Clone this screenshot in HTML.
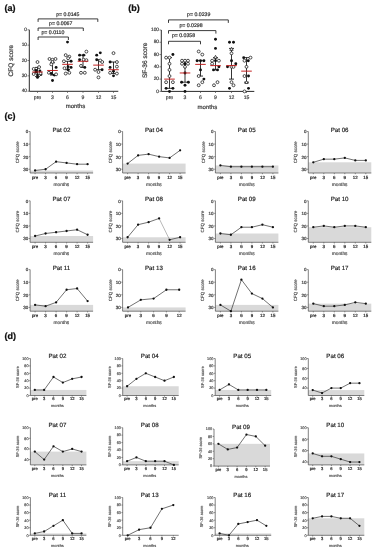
<!DOCTYPE html>
<html><head><meta charset="utf-8"><title>Figure</title>
<style>
html,body{margin:0;padding:0;background:#fff;}
body{width:375px;height:550px;overflow:hidden;}
svg{display:block;filter:blur(0.25px);}
text{font-family:'Liberation Sans', Arial, sans-serif;text-rendering:geometricPrecision;}
</style></head>
<body>
<svg width="375" height="550" viewBox="0 0 375 550">
<rect width="375" height="550" fill="#fff"/>
<text x="4.4" y="7.9" font-size="9" text-anchor="start" fill="#111" stroke="#111" stroke-width="0.23" font-weight="bold" dominant-baseline="central">(a)</text>
<line x1="29.3" y1="29.8" x2="29.3" y2="91.3" stroke="#2a2a2a" stroke-width="1"/>
<line x1="29.3" y1="91.3" x2="118.3" y2="91.3" stroke="#2a2a2a" stroke-width="1"/>
<line x1="27.5" y1="29.8" x2="29.3" y2="29.8" stroke="#4a4a4a" stroke-width="0.7"/>
<text x="27" y="30.4" font-size="4.8" text-anchor="end" fill="#3a3a3a" stroke="#3a3a3a" stroke-width="0.17" dominant-baseline="central">0</text>
<line x1="27.5" y1="45.15" x2="29.3" y2="45.15" stroke="#4a4a4a" stroke-width="0.7"/>
<text x="27" y="45.75" font-size="4.8" text-anchor="end" fill="#3a3a3a" stroke="#3a3a3a" stroke-width="0.17" dominant-baseline="central">10</text>
<line x1="27.5" y1="60.5" x2="29.3" y2="60.5" stroke="#4a4a4a" stroke-width="0.7"/>
<text x="27" y="61.1" font-size="4.8" text-anchor="end" fill="#3a3a3a" stroke="#3a3a3a" stroke-width="0.17" dominant-baseline="central">20</text>
<line x1="27.5" y1="75.85" x2="29.3" y2="75.85" stroke="#4a4a4a" stroke-width="0.7"/>
<text x="27" y="76.45" font-size="4.8" text-anchor="end" fill="#3a3a3a" stroke="#3a3a3a" stroke-width="0.17" dominant-baseline="central">30</text>
<line x1="27.5" y1="91.2" x2="29.3" y2="91.2" stroke="#4a4a4a" stroke-width="0.7"/>
<text x="27" y="91.8" font-size="4.8" text-anchor="end" fill="#3a3a3a" stroke="#3a3a3a" stroke-width="0.17" dominant-baseline="central">40</text>
<line x1="37.5" y1="91.3" x2="37.5" y2="92.9" stroke="#4a4a4a" stroke-width="0.7"/>
<text x="37.5" y="97.7" font-size="5.1" text-anchor="middle" fill="#3a3a3a" stroke="#3a3a3a" stroke-width="0.18" dominant-baseline="central">pre</text>
<line x1="52.5" y1="91.3" x2="52.5" y2="92.9" stroke="#4a4a4a" stroke-width="0.7"/>
<text x="52.5" y="97.7" font-size="5.1" text-anchor="middle" fill="#3a3a3a" stroke="#3a3a3a" stroke-width="0.18" dominant-baseline="central">3</text>
<line x1="67.5" y1="91.3" x2="67.5" y2="92.9" stroke="#4a4a4a" stroke-width="0.7"/>
<text x="67.5" y="97.7" font-size="5.1" text-anchor="middle" fill="#3a3a3a" stroke="#3a3a3a" stroke-width="0.18" dominant-baseline="central">6</text>
<line x1="83" y1="91.3" x2="83" y2="92.9" stroke="#4a4a4a" stroke-width="0.7"/>
<text x="83" y="97.7" font-size="5.1" text-anchor="middle" fill="#3a3a3a" stroke="#3a3a3a" stroke-width="0.18" dominant-baseline="central">9</text>
<line x1="98.5" y1="91.3" x2="98.5" y2="92.9" stroke="#4a4a4a" stroke-width="0.7"/>
<text x="98.5" y="97.7" font-size="5.1" text-anchor="middle" fill="#3a3a3a" stroke="#3a3a3a" stroke-width="0.18" dominant-baseline="central">12</text>
<line x1="113.5" y1="91.3" x2="113.5" y2="92.9" stroke="#4a4a4a" stroke-width="0.7"/>
<text x="113.5" y="97.7" font-size="5.1" text-anchor="middle" fill="#3a3a3a" stroke="#3a3a3a" stroke-width="0.18" dominant-baseline="central">15</text>
<text x="75.5" y="106.9" font-size="6" text-anchor="middle" fill="#3a3a3a" stroke="#3a3a3a" stroke-width="0.21" dominant-baseline="central">months</text>
<text x="11.2" y="60.7" font-size="6.5" text-anchor="middle" fill="#3a3a3a" stroke="#3a3a3a" stroke-width="0.23" transform="rotate(-90 11.2 60.7)" dominant-baseline="central">CFQ score</text>
<path d="M38.1 21.9 V18.9 H97.8 V21.9" fill="none" stroke="#262626" stroke-width="0.9"/>
<text x="67.8" y="15.2" font-size="5.2" text-anchor="middle" fill="#2a2a2a" stroke="#2a2a2a" stroke-width="0.18" dominant-baseline="central">p= 0.0145</text>
<path d="M38.1 31 V28 H83.3 V31" fill="none" stroke="#262626" stroke-width="0.9"/>
<text x="60.7" y="24.4" font-size="5.2" text-anchor="middle" fill="#2a2a2a" stroke="#2a2a2a" stroke-width="0.18" dominant-baseline="central">p= 0.0067</text>
<path d="M38.1 40 V37 H68.4 V40" fill="none" stroke="#262626" stroke-width="0.9"/>
<text x="52.9" y="32.9" font-size="5.2" text-anchor="middle" fill="#2a2a2a" stroke="#2a2a2a" stroke-width="0.18" dominant-baseline="central">p= 0.0110</text>
<line x1="37.5" y1="67.41" x2="37.5" y2="76.62" stroke="#111" stroke-width="0.85"/>
<line x1="35" y1="67.41" x2="40" y2="67.41" stroke="#111" stroke-width="0.85"/>
<line x1="35" y1="76.62" x2="40" y2="76.62" stroke="#111" stroke-width="0.85"/>
<circle cx="37.5" cy="62.03" r="1.45" fill="#fff" stroke="#222" stroke-width="0.8"/>
<circle cx="33.7" cy="68.94" r="1.45" fill="#fff" stroke="#222" stroke-width="0.8"/>
<circle cx="39.1" cy="67.1" r="1.45" fill="#fff" stroke="#222" stroke-width="0.8"/>
<circle cx="35.9" cy="70.48" r="1.45" fill="#111"/>
<circle cx="39.9" cy="70.94" r="1.45" fill="#111"/>
<circle cx="33.7" cy="74.01" r="1.45" fill="#fff" stroke="#222" stroke-width="0.8"/>
<circle cx="37.5" cy="75.08" r="1.45" fill="#111"/>
<circle cx="40.9" cy="74.62" r="1.45" fill="#111"/>
<circle cx="40.5" cy="73.24" r="1.45" fill="#fff" stroke="#222" stroke-width="0.8"/>
<circle cx="37.5" cy="77.39" r="1.45" fill="#111"/>
<circle cx="36" cy="72.17" r="1.45" fill="#111"/>
<line x1="32.2" y1="72.01" x2="42.8" y2="72.01" stroke="#c01818" stroke-width="0.95"/>
<line x1="52.5" y1="62.8" x2="52.5" y2="75.08" stroke="#111" stroke-width="0.85"/>
<line x1="50" y1="62.8" x2="55" y2="62.8" stroke="#111" stroke-width="0.85"/>
<line x1="50" y1="75.08" x2="55" y2="75.08" stroke="#111" stroke-width="0.85"/>
<circle cx="49.5" cy="58.97" r="1.45" fill="#fff" stroke="#222" stroke-width="0.8"/>
<circle cx="52.5" cy="59.73" r="1.45" fill="#fff" stroke="#222" stroke-width="0.8"/>
<circle cx="55.5" cy="58.97" r="1.45" fill="#fff" stroke="#222" stroke-width="0.8"/>
<circle cx="52.5" cy="62.03" r="1.45" fill="#fff" stroke="#222" stroke-width="0.8"/>
<circle cx="51.3" cy="64.34" r="1.45" fill="#fff" stroke="#222" stroke-width="0.8"/>
<circle cx="56.1" cy="67.41" r="1.45" fill="#111"/>
<circle cx="48.9" cy="72.78" r="1.45" fill="#fff" stroke="#222" stroke-width="0.8"/>
<circle cx="51.3" cy="73.55" r="1.45" fill="#111"/>
<circle cx="54.3" cy="75.08" r="1.45" fill="#111"/>
<circle cx="56.1" cy="74.31" r="1.45" fill="#fff" stroke="#222" stroke-width="0.8"/>
<circle cx="52.5" cy="80.45" r="1.45" fill="#111"/>
<line x1="47.2" y1="70.48" x2="57.8" y2="70.48" stroke="#c01818" stroke-width="0.95"/>
<line x1="67.5" y1="61.27" x2="67.5" y2="69.71" stroke="#111" stroke-width="0.85"/>
<line x1="65" y1="61.27" x2="70" y2="61.27" stroke="#111" stroke-width="0.85"/>
<line x1="65" y1="69.71" x2="70" y2="69.71" stroke="#111" stroke-width="0.85"/>
<circle cx="67.5" cy="42.08" r="1.45" fill="#111"/>
<circle cx="65.7" cy="55.13" r="1.45" fill="#fff" stroke="#222" stroke-width="0.8"/>
<circle cx="69.3" cy="56.66" r="1.45" fill="#fff" stroke="#222" stroke-width="0.8"/>
<circle cx="63.9" cy="61.27" r="1.45" fill="#fff" stroke="#222" stroke-width="0.8"/>
<circle cx="71.1" cy="61.27" r="1.45" fill="#111"/>
<circle cx="68.1" cy="58.2" r="1.45" fill="#fff" stroke="#222" stroke-width="0.8"/>
<circle cx="64.5" cy="68.17" r="1.45" fill="#fff" stroke="#222" stroke-width="0.8"/>
<circle cx="68.1" cy="66.64" r="1.45" fill="#111"/>
<circle cx="71.1" cy="67.41" r="1.45" fill="#111"/>
<circle cx="68.1" cy="69.71" r="1.45" fill="#111"/>
<circle cx="65.7" cy="73.55" r="1.45" fill="#fff" stroke="#222" stroke-width="0.8"/>
<circle cx="69.3" cy="72.78" r="1.45" fill="#fff" stroke="#222" stroke-width="0.8"/>
<line x1="62.2" y1="64.34" x2="72.8" y2="64.34" stroke="#c01818" stroke-width="0.95"/>
<line x1="83" y1="55.13" x2="83" y2="67.41" stroke="#111" stroke-width="0.85"/>
<line x1="80.5" y1="55.13" x2="85.5" y2="55.13" stroke="#111" stroke-width="0.85"/>
<line x1="80.5" y1="67.41" x2="85.5" y2="67.41" stroke="#111" stroke-width="0.85"/>
<circle cx="86.4" cy="51.6" r="1.45" fill="#fff" stroke="#222" stroke-width="0.8"/>
<circle cx="79.6" cy="55.13" r="1.45" fill="#111"/>
<circle cx="83.6" cy="55.13" r="1.45" fill="#111"/>
<circle cx="79.6" cy="59.73" r="1.45" fill="#111"/>
<circle cx="83.6" cy="59.73" r="1.45" fill="#fff" stroke="#222" stroke-width="0.8"/>
<circle cx="86.4" cy="60.19" r="1.45" fill="#fff" stroke="#222" stroke-width="0.8"/>
<circle cx="81" cy="65.87" r="1.45" fill="#fff" stroke="#222" stroke-width="0.8"/>
<circle cx="84.8" cy="67.41" r="1.45" fill="#111"/>
<circle cx="81" cy="72.78" r="1.45" fill="#fff" stroke="#222" stroke-width="0.8"/>
<circle cx="84.8" cy="72.78" r="1.45" fill="#fff" stroke="#222" stroke-width="0.8"/>
<line x1="77.7" y1="61.27" x2="88.3" y2="61.27" stroke="#c01818" stroke-width="0.95"/>
<line x1="98.5" y1="59.73" x2="98.5" y2="69.71" stroke="#111" stroke-width="0.85"/>
<line x1="96" y1="59.73" x2="101" y2="59.73" stroke="#111" stroke-width="0.85"/>
<line x1="96" y1="69.71" x2="101" y2="69.71" stroke="#111" stroke-width="0.85"/>
<circle cx="100.3" cy="52.83" r="1.45" fill="#111"/>
<circle cx="96.7" cy="55.13" r="1.45" fill="#111"/>
<circle cx="96.7" cy="59.73" r="1.45" fill="#111"/>
<circle cx="100.3" cy="60.5" r="1.45" fill="#fff" stroke="#222" stroke-width="0.8"/>
<circle cx="102.2" cy="62.03" r="1.45" fill="#fff" stroke="#222" stroke-width="0.8"/>
<circle cx="95.1" cy="69.71" r="1.45" fill="#fff" stroke="#222" stroke-width="0.8"/>
<circle cx="102.1" cy="69.71" r="1.45" fill="#111"/>
<circle cx="98.5" cy="72.01" r="1.45" fill="#fff" stroke="#222" stroke-width="0.8"/>
<circle cx="98.5" cy="77.39" r="1.45" fill="#fff" stroke="#222" stroke-width="0.8"/>
<line x1="93.2" y1="65.11" x2="103.8" y2="65.11" stroke="#c01818" stroke-width="0.95"/>
<line x1="113.5" y1="62.03" x2="113.5" y2="73.55" stroke="#111" stroke-width="0.85"/>
<line x1="111" y1="62.03" x2="116" y2="62.03" stroke="#111" stroke-width="0.85"/>
<line x1="111" y1="73.55" x2="116" y2="73.55" stroke="#111" stroke-width="0.85"/>
<circle cx="113.5" cy="53.13" r="1.45" fill="#fff" stroke="#222" stroke-width="0.8"/>
<circle cx="110.1" cy="62.03" r="1.45" fill="#111"/>
<circle cx="116.9" cy="62.03" r="1.45" fill="#fff" stroke="#222" stroke-width="0.8"/>
<circle cx="110.1" cy="67.41" r="1.45" fill="#111"/>
<circle cx="116.9" cy="66.64" r="1.45" fill="#fff" stroke="#222" stroke-width="0.8"/>
<circle cx="110.1" cy="72.78" r="1.45" fill="#fff" stroke="#222" stroke-width="0.8"/>
<circle cx="116.9" cy="73.55" r="1.45" fill="#fff" stroke="#222" stroke-width="0.8"/>
<circle cx="113.5" cy="75.85" r="1.45" fill="#111"/>
<circle cx="113.5" cy="71.25" r="1.45" fill="#111"/>
<line x1="108.2" y1="69.71" x2="118.8" y2="69.71" stroke="#c01818" stroke-width="0.95"/>
<text x="128.2" y="7.9" font-size="9" text-anchor="start" fill="#111" stroke="#111" stroke-width="0.23" font-weight="bold" dominant-baseline="central">(b)</text>
<line x1="161.3" y1="30" x2="161.3" y2="91.4" stroke="#2a2a2a" stroke-width="1"/>
<line x1="161.3" y1="91.4" x2="254.3" y2="91.4" stroke="#2a2a2a" stroke-width="1"/>
<line x1="159.5" y1="91.4" x2="161.3" y2="91.4" stroke="#4a4a4a" stroke-width="0.7"/>
<text x="159" y="92" font-size="4.8" text-anchor="end" fill="#3a3a3a" stroke="#3a3a3a" stroke-width="0.17" dominant-baseline="central">0</text>
<line x1="159.5" y1="79.12" x2="161.3" y2="79.12" stroke="#4a4a4a" stroke-width="0.7"/>
<text x="159" y="79.72" font-size="4.8" text-anchor="end" fill="#3a3a3a" stroke="#3a3a3a" stroke-width="0.17" dominant-baseline="central">20</text>
<line x1="159.5" y1="66.84" x2="161.3" y2="66.84" stroke="#4a4a4a" stroke-width="0.7"/>
<text x="159" y="67.44" font-size="4.8" text-anchor="end" fill="#3a3a3a" stroke="#3a3a3a" stroke-width="0.17" dominant-baseline="central">40</text>
<line x1="159.5" y1="54.56" x2="161.3" y2="54.56" stroke="#4a4a4a" stroke-width="0.7"/>
<text x="159" y="55.16" font-size="4.8" text-anchor="end" fill="#3a3a3a" stroke="#3a3a3a" stroke-width="0.17" dominant-baseline="central">60</text>
<line x1="159.5" y1="42.28" x2="161.3" y2="42.28" stroke="#4a4a4a" stroke-width="0.7"/>
<text x="159" y="42.88" font-size="4.8" text-anchor="end" fill="#3a3a3a" stroke="#3a3a3a" stroke-width="0.17" dominant-baseline="central">80</text>
<line x1="159.5" y1="30" x2="161.3" y2="30" stroke="#4a4a4a" stroke-width="0.7"/>
<text x="159" y="30.6" font-size="4.8" text-anchor="end" fill="#3a3a3a" stroke="#3a3a3a" stroke-width="0.17" dominant-baseline="central">100</text>
<line x1="169.5" y1="91.4" x2="169.5" y2="93" stroke="#4a4a4a" stroke-width="0.7"/>
<text x="169.5" y="97.8" font-size="5.1" text-anchor="middle" fill="#3a3a3a" stroke="#3a3a3a" stroke-width="0.18" dominant-baseline="central">pre</text>
<line x1="185" y1="91.4" x2="185" y2="93" stroke="#4a4a4a" stroke-width="0.7"/>
<text x="185" y="97.8" font-size="5.1" text-anchor="middle" fill="#3a3a3a" stroke="#3a3a3a" stroke-width="0.18" dominant-baseline="central">3</text>
<line x1="200.5" y1="91.4" x2="200.5" y2="93" stroke="#4a4a4a" stroke-width="0.7"/>
<text x="200.5" y="97.8" font-size="5.1" text-anchor="middle" fill="#3a3a3a" stroke="#3a3a3a" stroke-width="0.18" dominant-baseline="central">6</text>
<line x1="215.5" y1="91.4" x2="215.5" y2="93" stroke="#4a4a4a" stroke-width="0.7"/>
<text x="215.5" y="97.8" font-size="5.1" text-anchor="middle" fill="#3a3a3a" stroke="#3a3a3a" stroke-width="0.18" dominant-baseline="central">9</text>
<line x1="231.5" y1="91.4" x2="231.5" y2="93" stroke="#4a4a4a" stroke-width="0.7"/>
<text x="231.5" y="97.8" font-size="5.1" text-anchor="middle" fill="#3a3a3a" stroke="#3a3a3a" stroke-width="0.18" dominant-baseline="central">12</text>
<line x1="246.5" y1="91.4" x2="246.5" y2="93" stroke="#4a4a4a" stroke-width="0.7"/>
<text x="246.5" y="97.8" font-size="5.1" text-anchor="middle" fill="#3a3a3a" stroke="#3a3a3a" stroke-width="0.18" dominant-baseline="central">15</text>
<text x="207.4" y="107.8" font-size="6" text-anchor="middle" fill="#3a3a3a" stroke="#3a3a3a" stroke-width="0.21" dominant-baseline="central">months</text>
<text x="145.3" y="60.4" font-size="6.5" text-anchor="middle" fill="#3a3a3a" stroke="#3a3a3a" stroke-width="0.23" transform="rotate(-90 145.3 60.4)" dominant-baseline="central">SF-36 score</text>
<path d="M168.5 22.9 V19.9 H228.3 V22.9" fill="none" stroke="#262626" stroke-width="0.9"/>
<text x="198.7" y="15.2" font-size="5.2" text-anchor="middle" fill="#2a2a2a" stroke="#2a2a2a" stroke-width="0.18" dominant-baseline="central">p= 0.0239</text>
<path d="M168.5 33.6 V30.6 H215.9 V33.6" fill="none" stroke="#262626" stroke-width="0.9"/>
<text x="191" y="25.9" font-size="5.2" text-anchor="middle" fill="#2a2a2a" stroke="#2a2a2a" stroke-width="0.18" dominant-baseline="central">p= 0.0298</text>
<path d="M168.5 44.3 V41.3 H200.5 V44.3" fill="none" stroke="#262626" stroke-width="0.9"/>
<text x="183.5" y="35.9" font-size="5.2" text-anchor="middle" fill="#2a2a2a" stroke="#2a2a2a" stroke-width="0.18" dominant-baseline="central">p= 0.0358</text>
<line x1="169.5" y1="88.33" x2="169.5" y2="57.63" stroke="#111" stroke-width="0.85"/>
<line x1="167" y1="88.33" x2="172" y2="88.33" stroke="#111" stroke-width="0.85"/>
<line x1="167" y1="57.63" x2="172" y2="57.63" stroke="#111" stroke-width="0.85"/>
<circle cx="172.9" cy="54.56" r="1.45" fill="#111"/>
<circle cx="166.1" cy="57.63" r="1.45" fill="#fff" stroke="#222" stroke-width="0.8"/>
<circle cx="169.5" cy="57.63" r="1.45" fill="#fff" stroke="#222" stroke-width="0.8"/>
<circle cx="169.5" cy="63.77" r="1.45" fill="#fff" stroke="#222" stroke-width="0.8"/>
<circle cx="169.5" cy="69.91" r="1.45" fill="#fff" stroke="#222" stroke-width="0.8"/>
<circle cx="169.5" cy="76.05" r="1.45" fill="#fff" stroke="#222" stroke-width="0.8"/>
<circle cx="166.1" cy="82.19" r="1.45" fill="#fff" stroke="#222" stroke-width="0.8"/>
<circle cx="172.9" cy="82.19" r="1.45" fill="#fff" stroke="#222" stroke-width="0.8"/>
<circle cx="166.1" cy="88.33" r="1.45" fill="#111"/>
<circle cx="172.9" cy="88.33" r="1.45" fill="#111"/>
<circle cx="169.5" cy="91.4" r="1.45" fill="#111"/>
<line x1="164.2" y1="79.12" x2="174.8" y2="79.12" stroke="#c01818" stroke-width="0.95"/>
<line x1="185" y1="82.19" x2="185" y2="60.7" stroke="#111" stroke-width="0.85"/>
<line x1="182.5" y1="82.19" x2="187.5" y2="82.19" stroke="#111" stroke-width="0.85"/>
<line x1="182.5" y1="60.7" x2="187.5" y2="60.7" stroke="#111" stroke-width="0.85"/>
<circle cx="182" cy="60.7" r="1.45" fill="#fff" stroke="#222" stroke-width="0.8"/>
<circle cx="185" cy="60.7" r="1.45" fill="#fff" stroke="#222" stroke-width="0.8"/>
<circle cx="188" cy="60.7" r="1.45" fill="#fff" stroke="#222" stroke-width="0.8"/>
<circle cx="182" cy="63.77" r="1.45" fill="#fff" stroke="#222" stroke-width="0.8"/>
<circle cx="185" cy="63.77" r="1.45" fill="#111"/>
<circle cx="188" cy="63.77" r="1.45" fill="#fff" stroke="#222" stroke-width="0.8"/>
<circle cx="185" cy="66.84" r="1.45" fill="#fff" stroke="#222" stroke-width="0.8"/>
<circle cx="185" cy="72.98" r="1.45" fill="#111"/>
<circle cx="181.6" cy="82.19" r="1.45" fill="#111"/>
<circle cx="188.4" cy="82.19" r="1.45" fill="#111"/>
<circle cx="185" cy="85.26" r="1.45" fill="#111"/>
<circle cx="185" cy="91.4" r="1.45" fill="#111"/>
<line x1="179.7" y1="72.98" x2="190.3" y2="72.98" stroke="#c01818" stroke-width="0.95"/>
<line x1="200.5" y1="76.05" x2="200.5" y2="60.7" stroke="#111" stroke-width="0.85"/>
<line x1="198" y1="76.05" x2="203" y2="76.05" stroke="#111" stroke-width="0.85"/>
<line x1="198" y1="60.7" x2="203" y2="60.7" stroke="#111" stroke-width="0.85"/>
<circle cx="198.7" cy="51.49" r="1.45" fill="#fff" stroke="#222" stroke-width="0.8"/>
<circle cx="202.3" cy="54.56" r="1.45" fill="#fff" stroke="#222" stroke-width="0.8"/>
<circle cx="197.1" cy="60.7" r="1.45" fill="#111"/>
<circle cx="200.5" cy="60.7" r="1.45" fill="#111"/>
<circle cx="203.9" cy="60.7" r="1.45" fill="#111"/>
<circle cx="200.5" cy="69.91" r="1.45" fill="#111"/>
<circle cx="198.7" cy="76.05" r="1.45" fill="#fff" stroke="#222" stroke-width="0.8"/>
<circle cx="203.9" cy="79.12" r="1.45" fill="#111"/>
<circle cx="202.3" cy="82.19" r="1.45" fill="#fff" stroke="#222" stroke-width="0.8"/>
<circle cx="198.7" cy="85.26" r="1.45" fill="#fff" stroke="#222" stroke-width="0.8"/>
<line x1="195.2" y1="64.38" x2="205.8" y2="64.38" stroke="#c01818" stroke-width="0.95"/>
<line x1="215.5" y1="69.91" x2="215.5" y2="57.63" stroke="#111" stroke-width="0.85"/>
<line x1="213" y1="69.91" x2="218" y2="69.91" stroke="#111" stroke-width="0.85"/>
<line x1="213" y1="57.63" x2="218" y2="57.63" stroke="#111" stroke-width="0.85"/>
<circle cx="215.5" cy="39.21" r="1.45" fill="#111"/>
<circle cx="215.5" cy="48.42" r="1.45" fill="#111"/>
<path d="M215.5 55.35 L217.17 58.35 L213.83 58.35 Z" fill="#fff" stroke="#222" stroke-width="0.8"/>
<circle cx="212.1" cy="60.7" r="1.45" fill="#fff" stroke="#222" stroke-width="0.8"/>
<circle cx="215.5" cy="60.7" r="1.45" fill="#111"/>
<circle cx="218.9" cy="60.7" r="1.45" fill="#fff" stroke="#222" stroke-width="0.8"/>
<circle cx="212.1" cy="63.77" r="1.45" fill="#fff" stroke="#222" stroke-width="0.8"/>
<circle cx="218.9" cy="66.84" r="1.45" fill="#111"/>
<circle cx="213.5" cy="69.91" r="1.45" fill="#111"/>
<circle cx="217.5" cy="69.91" r="1.45" fill="#111"/>
<circle cx="214" cy="85.26" r="1.45" fill="#fff" stroke="#222" stroke-width="0.8"/>
<circle cx="217.5" cy="82.19" r="1.45" fill="#fff" stroke="#222" stroke-width="0.8"/>
<line x1="210.2" y1="65.61" x2="220.8" y2="65.61" stroke="#c01818" stroke-width="0.95"/>
<line x1="231.5" y1="79.12" x2="231.5" y2="48.42" stroke="#111" stroke-width="0.85"/>
<line x1="229" y1="79.12" x2="234" y2="79.12" stroke="#111" stroke-width="0.85"/>
<line x1="229" y1="48.42" x2="234" y2="48.42" stroke="#111" stroke-width="0.85"/>
<circle cx="229.5" cy="42.28" r="1.45" fill="#111"/>
<circle cx="233.5" cy="42.28" r="1.45" fill="#111"/>
<path d="M231.5 47.37 L233.17 50.37 L229.83 50.37 Z" fill="#fff" stroke="#222" stroke-width="0.8"/>
<circle cx="231.5" cy="53.33" r="1.45" fill="#fff" stroke="#222" stroke-width="0.8"/>
<circle cx="231.5" cy="60.7" r="1.45" fill="#111"/>
<circle cx="235.8" cy="63.77" r="1.45" fill="#111"/>
<circle cx="227.5" cy="66.84" r="1.45" fill="#111"/>
<circle cx="231.5" cy="66.84" r="1.45" fill="#fff" stroke="#222" stroke-width="0.8"/>
<circle cx="233.5" cy="66.84" r="1.45" fill="#fff" stroke="#222" stroke-width="0.8"/>
<circle cx="231.5" cy="82.19" r="1.45" fill="#fff" stroke="#222" stroke-width="0.8"/>
<circle cx="233.5" cy="85.26" r="1.45" fill="#fff" stroke="#222" stroke-width="0.8"/>
<circle cx="229.5" cy="88.33" r="1.45" fill="#111"/>
<line x1="226.2" y1="65.61" x2="236.8" y2="65.61" stroke="#c01818" stroke-width="0.95"/>
<line x1="246.5" y1="82.19" x2="246.5" y2="57.63" stroke="#111" stroke-width="0.85"/>
<line x1="244" y1="82.19" x2="249" y2="82.19" stroke="#111" stroke-width="0.85"/>
<line x1="244" y1="57.63" x2="249" y2="57.63" stroke="#111" stroke-width="0.85"/>
<circle cx="243.7" cy="57.63" r="1.45" fill="#111"/>
<circle cx="250.5" cy="57.63" r="1.45" fill="#fff" stroke="#222" stroke-width="0.8"/>
<circle cx="244.5" cy="60.7" r="1.45" fill="#fff" stroke="#222" stroke-width="0.8"/>
<circle cx="248.3" cy="60.7" r="1.45" fill="#111"/>
<circle cx="246.5" cy="66.84" r="1.45" fill="#fff" stroke="#222" stroke-width="0.8"/>
<circle cx="244.5" cy="76.05" r="1.45" fill="#fff" stroke="#222" stroke-width="0.8"/>
<circle cx="248.5" cy="76.05" r="1.45" fill="#111"/>
<path d="M246.5 80.52 L248.17 83.52 L244.83 83.52 Z" fill="#fff" stroke="#222" stroke-width="0.8"/>
<circle cx="248.5" cy="88.33" r="1.45" fill="#111"/>
<circle cx="244.5" cy="91.4" r="1.45" fill="#fff" stroke="#222" stroke-width="0.8"/>
<line x1="241.2" y1="71.14" x2="251.8" y2="71.14" stroke="#c01818" stroke-width="0.95"/>
<text x="4.6" y="116.4" font-size="9" text-anchor="start" fill="#111" stroke="#111" stroke-width="0.23" font-weight="bold" dominant-baseline="central">(c)</text>
<rect x="30.1" y="170.48" width="63" height="2.52" fill="#d9d9d9"/>
<line x1="30.1" y1="131.5" x2="30.1" y2="173" stroke="#4a4a4a" stroke-width="0.7"/>
<line x1="30.1" y1="173" x2="93.1" y2="173" stroke="#4a4a4a" stroke-width="0.7"/>
<line x1="28.8" y1="131.5" x2="30.1" y2="131.5" stroke="#4a4a4a" stroke-width="0.6"/>
<text x="28.3" y="131.85" font-size="4.5" text-anchor="end" fill="#444" stroke="#444" stroke-width="0.23" dominant-baseline="central">0</text>
<line x1="28.8" y1="144.08" x2="30.1" y2="144.08" stroke="#4a4a4a" stroke-width="0.6"/>
<text x="28.3" y="144.43" font-size="4.5" text-anchor="end" fill="#444" stroke="#444" stroke-width="0.23" dominant-baseline="central">10</text>
<line x1="28.8" y1="156.65" x2="30.1" y2="156.65" stroke="#4a4a4a" stroke-width="0.6"/>
<text x="28.3" y="157" font-size="4.5" text-anchor="end" fill="#444" stroke="#444" stroke-width="0.23" dominant-baseline="central">20</text>
<line x1="28.8" y1="169.23" x2="30.1" y2="169.23" stroke="#4a4a4a" stroke-width="0.6"/>
<text x="28.3" y="169.58" font-size="4.5" text-anchor="end" fill="#444" stroke="#444" stroke-width="0.23" dominant-baseline="central">30</text>
<line x1="35.1" y1="173" x2="35.1" y2="174.2" stroke="#4a4a4a" stroke-width="0.6"/>
<text x="35.1" y="177" font-size="4.4" text-anchor="middle" fill="#2a2a2a" stroke="#2a2a2a" stroke-width="0.22" dominant-baseline="central">pre</text>
<line x1="45.6" y1="173" x2="45.6" y2="174.2" stroke="#4a4a4a" stroke-width="0.6"/>
<text x="45.6" y="177" font-size="4.4" text-anchor="middle" fill="#2a2a2a" stroke="#2a2a2a" stroke-width="0.22" dominant-baseline="central">3</text>
<line x1="56.1" y1="173" x2="56.1" y2="174.2" stroke="#4a4a4a" stroke-width="0.6"/>
<text x="56.1" y="177" font-size="4.4" text-anchor="middle" fill="#2a2a2a" stroke="#2a2a2a" stroke-width="0.22" dominant-baseline="central">6</text>
<line x1="66.6" y1="173" x2="66.6" y2="174.2" stroke="#4a4a4a" stroke-width="0.6"/>
<text x="66.6" y="177" font-size="4.4" text-anchor="middle" fill="#2a2a2a" stroke="#2a2a2a" stroke-width="0.22" dominant-baseline="central">9</text>
<line x1="77.1" y1="173" x2="77.1" y2="174.2" stroke="#4a4a4a" stroke-width="0.6"/>
<text x="77.1" y="177" font-size="4.4" text-anchor="middle" fill="#2a2a2a" stroke="#2a2a2a" stroke-width="0.22" dominant-baseline="central">12</text>
<line x1="87.6" y1="173" x2="87.6" y2="174.2" stroke="#4a4a4a" stroke-width="0.6"/>
<text x="87.6" y="177" font-size="4.4" text-anchor="middle" fill="#2a2a2a" stroke="#2a2a2a" stroke-width="0.22" dominant-baseline="central">15</text>
<line x1="35.1" y1="170.48" x2="45.6" y2="169.23" stroke="#3a3a3a" stroke-width="0.72" stroke-linecap="round"/>
<line x1="45.6" y1="169.23" x2="56.1" y2="161.68" stroke="#3a3a3a" stroke-width="0.72" stroke-linecap="round"/>
<line x1="56.1" y1="161.68" x2="66.6" y2="162.94" stroke="#3a3a3a" stroke-width="0.72" stroke-linecap="round"/>
<line x1="66.6" y1="162.94" x2="77.1" y2="164.2" stroke="#3a3a3a" stroke-width="0.72" stroke-linecap="round"/>
<line x1="77.1" y1="164.2" x2="87.6" y2="164.2" stroke="#3a3a3a" stroke-width="0.72" stroke-linecap="round"/>
<circle cx="35.1" cy="170.48" r="1.15" fill="#111"/>
<circle cx="45.6" cy="169.23" r="1.15" fill="#111"/>
<circle cx="56.1" cy="161.68" r="1.15" fill="#111"/>
<circle cx="66.6" cy="162.94" r="1.15" fill="#111"/>
<circle cx="77.1" cy="164.2" r="1.15" fill="#111"/>
<circle cx="87.6" cy="164.2" r="1.15" fill="#111"/>
<text x="61.4" y="130" font-size="6.2" text-anchor="middle" fill="#1a1a1a" stroke="#1a1a1a" stroke-width="0.16" dominant-baseline="central">Pat 02</text>
<text x="61.4" y="185" font-size="4.8" text-anchor="middle" fill="#4a4a4a" stroke="#4a4a4a" stroke-width="0.17" dominant-baseline="central">months</text>
<text x="17.7" y="152.25" font-size="4.5" text-anchor="middle" fill="#4a4a4a" stroke="#4a4a4a" stroke-width="0.16" transform="rotate(-90 17.7 152.25)" dominant-baseline="central">CFQ score</text>
<rect x="122.6" y="163.57" width="63" height="9.43" fill="#d9d9d9"/>
<line x1="122.6" y1="131.5" x2="122.6" y2="173" stroke="#4a4a4a" stroke-width="0.7"/>
<line x1="122.6" y1="173" x2="185.6" y2="173" stroke="#4a4a4a" stroke-width="0.7"/>
<line x1="121.3" y1="131.5" x2="122.6" y2="131.5" stroke="#4a4a4a" stroke-width="0.6"/>
<text x="120.8" y="131.85" font-size="4.5" text-anchor="end" fill="#444" stroke="#444" stroke-width="0.23" dominant-baseline="central">0</text>
<line x1="121.3" y1="144.08" x2="122.6" y2="144.08" stroke="#4a4a4a" stroke-width="0.6"/>
<text x="120.8" y="144.43" font-size="4.5" text-anchor="end" fill="#444" stroke="#444" stroke-width="0.23" dominant-baseline="central">10</text>
<line x1="121.3" y1="156.65" x2="122.6" y2="156.65" stroke="#4a4a4a" stroke-width="0.6"/>
<text x="120.8" y="157" font-size="4.5" text-anchor="end" fill="#444" stroke="#444" stroke-width="0.23" dominant-baseline="central">20</text>
<line x1="121.3" y1="169.23" x2="122.6" y2="169.23" stroke="#4a4a4a" stroke-width="0.6"/>
<text x="120.8" y="169.58" font-size="4.5" text-anchor="end" fill="#444" stroke="#444" stroke-width="0.23" dominant-baseline="central">30</text>
<line x1="127.6" y1="173" x2="127.6" y2="174.2" stroke="#4a4a4a" stroke-width="0.6"/>
<text x="127.6" y="177" font-size="4.4" text-anchor="middle" fill="#2a2a2a" stroke="#2a2a2a" stroke-width="0.22" dominant-baseline="central">pre</text>
<line x1="138.1" y1="173" x2="138.1" y2="174.2" stroke="#4a4a4a" stroke-width="0.6"/>
<text x="138.1" y="177" font-size="4.4" text-anchor="middle" fill="#2a2a2a" stroke="#2a2a2a" stroke-width="0.22" dominant-baseline="central">3</text>
<line x1="148.6" y1="173" x2="148.6" y2="174.2" stroke="#4a4a4a" stroke-width="0.6"/>
<text x="148.6" y="177" font-size="4.4" text-anchor="middle" fill="#2a2a2a" stroke="#2a2a2a" stroke-width="0.22" dominant-baseline="central">6</text>
<line x1="159.1" y1="173" x2="159.1" y2="174.2" stroke="#4a4a4a" stroke-width="0.6"/>
<text x="159.1" y="177" font-size="4.4" text-anchor="middle" fill="#2a2a2a" stroke="#2a2a2a" stroke-width="0.22" dominant-baseline="central">9</text>
<line x1="169.6" y1="173" x2="169.6" y2="174.2" stroke="#4a4a4a" stroke-width="0.6"/>
<text x="169.6" y="177" font-size="4.4" text-anchor="middle" fill="#2a2a2a" stroke="#2a2a2a" stroke-width="0.22" dominant-baseline="central">12</text>
<line x1="180.1" y1="173" x2="180.1" y2="174.2" stroke="#4a4a4a" stroke-width="0.6"/>
<text x="180.1" y="177" font-size="4.4" text-anchor="middle" fill="#2a2a2a" stroke="#2a2a2a" stroke-width="0.22" dominant-baseline="central">15</text>
<line x1="127.6" y1="163.57" x2="138.1" y2="155.39" stroke="#3a3a3a" stroke-width="0.72" stroke-linecap="round"/>
<line x1="138.1" y1="155.39" x2="148.6" y2="154.14" stroke="#3a3a3a" stroke-width="0.72" stroke-linecap="round"/>
<line x1="148.6" y1="154.14" x2="159.1" y2="156.65" stroke="#3a3a3a" stroke-width="0.72" stroke-linecap="round"/>
<line x1="159.1" y1="156.65" x2="169.6" y2="157.91" stroke="#3a3a3a" stroke-width="0.72" stroke-linecap="round"/>
<line x1="169.6" y1="157.91" x2="180.1" y2="150.36" stroke="#3a3a3a" stroke-width="0.72" stroke-linecap="round"/>
<circle cx="127.6" cy="163.57" r="1.15" fill="#111"/>
<circle cx="138.1" cy="155.39" r="1.15" fill="#111"/>
<circle cx="148.6" cy="154.14" r="1.15" fill="#111"/>
<circle cx="159.1" cy="156.65" r="1.15" fill="#111"/>
<circle cx="169.6" cy="157.91" r="1.15" fill="#111"/>
<circle cx="180.1" cy="150.36" r="1.15" fill="#111"/>
<text x="153.9" y="130" font-size="6.2" text-anchor="middle" fill="#1a1a1a" stroke="#1a1a1a" stroke-width="0.16" dominant-baseline="central">Pat 04</text>
<text x="153.9" y="185" font-size="4.8" text-anchor="middle" fill="#4a4a4a" stroke="#4a4a4a" stroke-width="0.17" dominant-baseline="central">months</text>
<text x="110.2" y="152.25" font-size="4.5" text-anchor="middle" fill="#4a4a4a" stroke="#4a4a4a" stroke-width="0.16" transform="rotate(-90 110.2 152.25)" dominant-baseline="central">CFQ score</text>
<rect x="215.4" y="165.45" width="63" height="7.55" fill="#d9d9d9"/>
<line x1="215.4" y1="131.5" x2="215.4" y2="173" stroke="#4a4a4a" stroke-width="0.7"/>
<line x1="215.4" y1="173" x2="278.4" y2="173" stroke="#4a4a4a" stroke-width="0.7"/>
<line x1="214.1" y1="131.5" x2="215.4" y2="131.5" stroke="#4a4a4a" stroke-width="0.6"/>
<text x="213.6" y="131.85" font-size="4.5" text-anchor="end" fill="#444" stroke="#444" stroke-width="0.23" dominant-baseline="central">0</text>
<line x1="214.1" y1="144.08" x2="215.4" y2="144.08" stroke="#4a4a4a" stroke-width="0.6"/>
<text x="213.6" y="144.43" font-size="4.5" text-anchor="end" fill="#444" stroke="#444" stroke-width="0.23" dominant-baseline="central">10</text>
<line x1="214.1" y1="156.65" x2="215.4" y2="156.65" stroke="#4a4a4a" stroke-width="0.6"/>
<text x="213.6" y="157" font-size="4.5" text-anchor="end" fill="#444" stroke="#444" stroke-width="0.23" dominant-baseline="central">20</text>
<line x1="214.1" y1="169.23" x2="215.4" y2="169.23" stroke="#4a4a4a" stroke-width="0.6"/>
<text x="213.6" y="169.58" font-size="4.5" text-anchor="end" fill="#444" stroke="#444" stroke-width="0.23" dominant-baseline="central">30</text>
<line x1="220.4" y1="173" x2="220.4" y2="174.2" stroke="#4a4a4a" stroke-width="0.6"/>
<text x="220.4" y="177" font-size="4.4" text-anchor="middle" fill="#2a2a2a" stroke="#2a2a2a" stroke-width="0.22" dominant-baseline="central">pre</text>
<line x1="230.9" y1="173" x2="230.9" y2="174.2" stroke="#4a4a4a" stroke-width="0.6"/>
<text x="230.9" y="177" font-size="4.4" text-anchor="middle" fill="#2a2a2a" stroke="#2a2a2a" stroke-width="0.22" dominant-baseline="central">3</text>
<line x1="241.4" y1="173" x2="241.4" y2="174.2" stroke="#4a4a4a" stroke-width="0.6"/>
<text x="241.4" y="177" font-size="4.4" text-anchor="middle" fill="#2a2a2a" stroke="#2a2a2a" stroke-width="0.22" dominant-baseline="central">6</text>
<line x1="251.9" y1="173" x2="251.9" y2="174.2" stroke="#4a4a4a" stroke-width="0.6"/>
<text x="251.9" y="177" font-size="4.4" text-anchor="middle" fill="#2a2a2a" stroke="#2a2a2a" stroke-width="0.22" dominant-baseline="central">9</text>
<line x1="262.4" y1="173" x2="262.4" y2="174.2" stroke="#4a4a4a" stroke-width="0.6"/>
<text x="262.4" y="177" font-size="4.4" text-anchor="middle" fill="#2a2a2a" stroke="#2a2a2a" stroke-width="0.22" dominant-baseline="central">12</text>
<line x1="272.9" y1="173" x2="272.9" y2="174.2" stroke="#4a4a4a" stroke-width="0.6"/>
<text x="272.9" y="177" font-size="4.4" text-anchor="middle" fill="#2a2a2a" stroke="#2a2a2a" stroke-width="0.22" dominant-baseline="central">15</text>
<line x1="220.4" y1="165.45" x2="230.9" y2="166.71" stroke="#3a3a3a" stroke-width="0.72" stroke-linecap="round"/>
<line x1="230.9" y1="166.71" x2="241.4" y2="166.71" stroke="#3a3a3a" stroke-width="0.72" stroke-linecap="round"/>
<line x1="241.4" y1="166.71" x2="251.9" y2="166.71" stroke="#3a3a3a" stroke-width="0.72" stroke-linecap="round"/>
<line x1="251.9" y1="166.71" x2="262.4" y2="166.71" stroke="#3a3a3a" stroke-width="0.72" stroke-linecap="round"/>
<line x1="262.4" y1="166.71" x2="272.9" y2="166.71" stroke="#3a3a3a" stroke-width="0.72" stroke-linecap="round"/>
<circle cx="220.4" cy="165.45" r="1.15" fill="#111"/>
<circle cx="230.9" cy="166.71" r="1.15" fill="#111"/>
<circle cx="241.4" cy="166.71" r="1.15" fill="#111"/>
<circle cx="251.9" cy="166.71" r="1.15" fill="#111"/>
<circle cx="262.4" cy="166.71" r="1.15" fill="#111"/>
<circle cx="272.9" cy="166.71" r="1.15" fill="#111"/>
<text x="246.7" y="130" font-size="6.2" text-anchor="middle" fill="#1a1a1a" stroke="#1a1a1a" stroke-width="0.16" dominant-baseline="central">Pat 05</text>
<text x="246.7" y="185" font-size="4.8" text-anchor="middle" fill="#4a4a4a" stroke="#4a4a4a" stroke-width="0.17" dominant-baseline="central">months</text>
<text x="203" y="152.25" font-size="4.5" text-anchor="middle" fill="#4a4a4a" stroke="#4a4a4a" stroke-width="0.16" transform="rotate(-90 203 152.25)" dominant-baseline="central">CFQ score</text>
<rect x="308.3" y="162.31" width="63" height="10.69" fill="#d9d9d9"/>
<line x1="308.3" y1="131.5" x2="308.3" y2="173" stroke="#4a4a4a" stroke-width="0.7"/>
<line x1="308.3" y1="173" x2="371.3" y2="173" stroke="#4a4a4a" stroke-width="0.7"/>
<line x1="307" y1="131.5" x2="308.3" y2="131.5" stroke="#4a4a4a" stroke-width="0.6"/>
<text x="306.5" y="131.85" font-size="4.5" text-anchor="end" fill="#444" stroke="#444" stroke-width="0.23" dominant-baseline="central">0</text>
<line x1="307" y1="144.08" x2="308.3" y2="144.08" stroke="#4a4a4a" stroke-width="0.6"/>
<text x="306.5" y="144.43" font-size="4.5" text-anchor="end" fill="#444" stroke="#444" stroke-width="0.23" dominant-baseline="central">10</text>
<line x1="307" y1="156.65" x2="308.3" y2="156.65" stroke="#4a4a4a" stroke-width="0.6"/>
<text x="306.5" y="157" font-size="4.5" text-anchor="end" fill="#444" stroke="#444" stroke-width="0.23" dominant-baseline="central">20</text>
<line x1="307" y1="169.23" x2="308.3" y2="169.23" stroke="#4a4a4a" stroke-width="0.6"/>
<text x="306.5" y="169.58" font-size="4.5" text-anchor="end" fill="#444" stroke="#444" stroke-width="0.23" dominant-baseline="central">30</text>
<line x1="313.3" y1="173" x2="313.3" y2="174.2" stroke="#4a4a4a" stroke-width="0.6"/>
<text x="313.3" y="177" font-size="4.4" text-anchor="middle" fill="#2a2a2a" stroke="#2a2a2a" stroke-width="0.22" dominant-baseline="central">pre</text>
<line x1="323.8" y1="173" x2="323.8" y2="174.2" stroke="#4a4a4a" stroke-width="0.6"/>
<text x="323.8" y="177" font-size="4.4" text-anchor="middle" fill="#2a2a2a" stroke="#2a2a2a" stroke-width="0.22" dominant-baseline="central">3</text>
<line x1="334.3" y1="173" x2="334.3" y2="174.2" stroke="#4a4a4a" stroke-width="0.6"/>
<text x="334.3" y="177" font-size="4.4" text-anchor="middle" fill="#2a2a2a" stroke="#2a2a2a" stroke-width="0.22" dominant-baseline="central">6</text>
<line x1="344.8" y1="173" x2="344.8" y2="174.2" stroke="#4a4a4a" stroke-width="0.6"/>
<text x="344.8" y="177" font-size="4.4" text-anchor="middle" fill="#2a2a2a" stroke="#2a2a2a" stroke-width="0.22" dominant-baseline="central">9</text>
<line x1="355.3" y1="173" x2="355.3" y2="174.2" stroke="#4a4a4a" stroke-width="0.6"/>
<text x="355.3" y="177" font-size="4.4" text-anchor="middle" fill="#2a2a2a" stroke="#2a2a2a" stroke-width="0.22" dominant-baseline="central">12</text>
<line x1="365.8" y1="173" x2="365.8" y2="174.2" stroke="#4a4a4a" stroke-width="0.6"/>
<text x="365.8" y="177" font-size="4.4" text-anchor="middle" fill="#2a2a2a" stroke="#2a2a2a" stroke-width="0.22" dominant-baseline="central">15</text>
<line x1="313.3" y1="162.31" x2="323.8" y2="159.17" stroke="#3a3a3a" stroke-width="0.72" stroke-linecap="round"/>
<line x1="323.8" y1="159.17" x2="334.3" y2="159.17" stroke="#3a3a3a" stroke-width="0.72" stroke-linecap="round"/>
<line x1="334.3" y1="159.17" x2="344.8" y2="157.91" stroke="#3a3a3a" stroke-width="0.72" stroke-linecap="round"/>
<line x1="344.8" y1="157.91" x2="355.3" y2="160.42" stroke="#3a3a3a" stroke-width="0.72" stroke-linecap="round"/>
<line x1="355.3" y1="160.42" x2="365.8" y2="160.42" stroke="#3a3a3a" stroke-width="0.72" stroke-linecap="round"/>
<circle cx="313.3" cy="162.31" r="1.15" fill="#111"/>
<circle cx="323.8" cy="159.17" r="1.15" fill="#111"/>
<circle cx="334.3" cy="159.17" r="1.15" fill="#111"/>
<circle cx="344.8" cy="157.91" r="1.15" fill="#111"/>
<circle cx="355.3" cy="160.42" r="1.15" fill="#111"/>
<circle cx="365.8" cy="160.42" r="1.15" fill="#111"/>
<text x="339.6" y="130" font-size="6.2" text-anchor="middle" fill="#1a1a1a" stroke="#1a1a1a" stroke-width="0.16" dominant-baseline="central">Pat 06</text>
<text x="339.6" y="185" font-size="4.8" text-anchor="middle" fill="#4a4a4a" stroke="#4a4a4a" stroke-width="0.17" dominant-baseline="central">months</text>
<text x="295.9" y="152.25" font-size="4.5" text-anchor="middle" fill="#4a4a4a" stroke="#4a4a4a" stroke-width="0.16" transform="rotate(-90 295.9 152.25)" dominant-baseline="central">CFQ score</text>
<rect x="30.1" y="236.01" width="63" height="6.29" fill="#d9d9d9"/>
<line x1="30.1" y1="200.8" x2="30.1" y2="242.3" stroke="#4a4a4a" stroke-width="0.7"/>
<line x1="30.1" y1="242.3" x2="93.1" y2="242.3" stroke="#4a4a4a" stroke-width="0.7"/>
<line x1="28.8" y1="200.8" x2="30.1" y2="200.8" stroke="#4a4a4a" stroke-width="0.6"/>
<text x="28.3" y="201.15" font-size="4.5" text-anchor="end" fill="#444" stroke="#444" stroke-width="0.23" dominant-baseline="central">0</text>
<line x1="28.8" y1="213.38" x2="30.1" y2="213.38" stroke="#4a4a4a" stroke-width="0.6"/>
<text x="28.3" y="213.73" font-size="4.5" text-anchor="end" fill="#444" stroke="#444" stroke-width="0.23" dominant-baseline="central">10</text>
<line x1="28.8" y1="225.95" x2="30.1" y2="225.95" stroke="#4a4a4a" stroke-width="0.6"/>
<text x="28.3" y="226.3" font-size="4.5" text-anchor="end" fill="#444" stroke="#444" stroke-width="0.23" dominant-baseline="central">20</text>
<line x1="28.8" y1="238.53" x2="30.1" y2="238.53" stroke="#4a4a4a" stroke-width="0.6"/>
<text x="28.3" y="238.88" font-size="4.5" text-anchor="end" fill="#444" stroke="#444" stroke-width="0.23" dominant-baseline="central">30</text>
<line x1="35.1" y1="242.3" x2="35.1" y2="243.5" stroke="#4a4a4a" stroke-width="0.6"/>
<text x="35.1" y="246.3" font-size="4.4" text-anchor="middle" fill="#2a2a2a" stroke="#2a2a2a" stroke-width="0.22" dominant-baseline="central">pre</text>
<line x1="45.6" y1="242.3" x2="45.6" y2="243.5" stroke="#4a4a4a" stroke-width="0.6"/>
<text x="45.6" y="246.3" font-size="4.4" text-anchor="middle" fill="#2a2a2a" stroke="#2a2a2a" stroke-width="0.22" dominant-baseline="central">3</text>
<line x1="56.1" y1="242.3" x2="56.1" y2="243.5" stroke="#4a4a4a" stroke-width="0.6"/>
<text x="56.1" y="246.3" font-size="4.4" text-anchor="middle" fill="#2a2a2a" stroke="#2a2a2a" stroke-width="0.22" dominant-baseline="central">6</text>
<line x1="66.6" y1="242.3" x2="66.6" y2="243.5" stroke="#4a4a4a" stroke-width="0.6"/>
<text x="66.6" y="246.3" font-size="4.4" text-anchor="middle" fill="#2a2a2a" stroke="#2a2a2a" stroke-width="0.22" dominant-baseline="central">9</text>
<line x1="77.1" y1="242.3" x2="77.1" y2="243.5" stroke="#4a4a4a" stroke-width="0.6"/>
<text x="77.1" y="246.3" font-size="4.4" text-anchor="middle" fill="#2a2a2a" stroke="#2a2a2a" stroke-width="0.22" dominant-baseline="central">12</text>
<line x1="87.6" y1="242.3" x2="87.6" y2="243.5" stroke="#4a4a4a" stroke-width="0.6"/>
<text x="87.6" y="246.3" font-size="4.4" text-anchor="middle" fill="#2a2a2a" stroke="#2a2a2a" stroke-width="0.22" dominant-baseline="central">15</text>
<line x1="35.1" y1="236.01" x2="45.6" y2="233.5" stroke="#3a3a3a" stroke-width="0.72" stroke-linecap="round"/>
<line x1="45.6" y1="233.5" x2="56.1" y2="232.24" stroke="#3a3a3a" stroke-width="0.72" stroke-linecap="round"/>
<line x1="56.1" y1="232.24" x2="66.6" y2="230.98" stroke="#3a3a3a" stroke-width="0.72" stroke-linecap="round"/>
<line x1="66.6" y1="230.98" x2="77.1" y2="229.72" stroke="#3a3a3a" stroke-width="0.72" stroke-linecap="round"/>
<line x1="77.1" y1="229.72" x2="87.6" y2="234.75" stroke="#3a3a3a" stroke-width="0.72" stroke-linecap="round"/>
<circle cx="35.1" cy="236.01" r="1.15" fill="#111"/>
<circle cx="45.6" cy="233.5" r="1.15" fill="#111"/>
<circle cx="56.1" cy="232.24" r="1.15" fill="#111"/>
<circle cx="66.6" cy="230.98" r="1.15" fill="#111"/>
<circle cx="77.1" cy="229.72" r="1.15" fill="#111"/>
<circle cx="87.6" cy="234.75" r="1.15" fill="#111"/>
<text x="61.4" y="199.3" font-size="6.2" text-anchor="middle" fill="#1a1a1a" stroke="#1a1a1a" stroke-width="0.16" dominant-baseline="central">Pat 07</text>
<text x="61.4" y="254.3" font-size="4.8" text-anchor="middle" fill="#4a4a4a" stroke="#4a4a4a" stroke-width="0.17" dominant-baseline="central">months</text>
<text x="17.7" y="221.55" font-size="4.5" text-anchor="middle" fill="#4a4a4a" stroke="#4a4a4a" stroke-width="0.16" transform="rotate(-90 17.7 221.55)" dominant-baseline="central">CFQ score</text>
<rect x="122.6" y="237.27" width="63" height="5.03" fill="#d9d9d9"/>
<line x1="122.6" y1="200.8" x2="122.6" y2="242.3" stroke="#4a4a4a" stroke-width="0.7"/>
<line x1="122.6" y1="242.3" x2="185.6" y2="242.3" stroke="#4a4a4a" stroke-width="0.7"/>
<line x1="121.3" y1="200.8" x2="122.6" y2="200.8" stroke="#4a4a4a" stroke-width="0.6"/>
<text x="120.8" y="201.15" font-size="4.5" text-anchor="end" fill="#444" stroke="#444" stroke-width="0.23" dominant-baseline="central">0</text>
<line x1="121.3" y1="213.38" x2="122.6" y2="213.38" stroke="#4a4a4a" stroke-width="0.6"/>
<text x="120.8" y="213.73" font-size="4.5" text-anchor="end" fill="#444" stroke="#444" stroke-width="0.23" dominant-baseline="central">10</text>
<line x1="121.3" y1="225.95" x2="122.6" y2="225.95" stroke="#4a4a4a" stroke-width="0.6"/>
<text x="120.8" y="226.3" font-size="4.5" text-anchor="end" fill="#444" stroke="#444" stroke-width="0.23" dominant-baseline="central">20</text>
<line x1="121.3" y1="238.53" x2="122.6" y2="238.53" stroke="#4a4a4a" stroke-width="0.6"/>
<text x="120.8" y="238.88" font-size="4.5" text-anchor="end" fill="#444" stroke="#444" stroke-width="0.23" dominant-baseline="central">30</text>
<line x1="127.6" y1="242.3" x2="127.6" y2="243.5" stroke="#4a4a4a" stroke-width="0.6"/>
<text x="127.6" y="246.3" font-size="4.4" text-anchor="middle" fill="#2a2a2a" stroke="#2a2a2a" stroke-width="0.22" dominant-baseline="central">pre</text>
<line x1="138.1" y1="242.3" x2="138.1" y2="243.5" stroke="#4a4a4a" stroke-width="0.6"/>
<text x="138.1" y="246.3" font-size="4.4" text-anchor="middle" fill="#2a2a2a" stroke="#2a2a2a" stroke-width="0.22" dominant-baseline="central">3</text>
<line x1="148.6" y1="242.3" x2="148.6" y2="243.5" stroke="#4a4a4a" stroke-width="0.6"/>
<text x="148.6" y="246.3" font-size="4.4" text-anchor="middle" fill="#2a2a2a" stroke="#2a2a2a" stroke-width="0.22" dominant-baseline="central">6</text>
<line x1="159.1" y1="242.3" x2="159.1" y2="243.5" stroke="#4a4a4a" stroke-width="0.6"/>
<text x="159.1" y="246.3" font-size="4.4" text-anchor="middle" fill="#2a2a2a" stroke="#2a2a2a" stroke-width="0.22" dominant-baseline="central">9</text>
<line x1="169.6" y1="242.3" x2="169.6" y2="243.5" stroke="#4a4a4a" stroke-width="0.6"/>
<text x="169.6" y="246.3" font-size="4.4" text-anchor="middle" fill="#2a2a2a" stroke="#2a2a2a" stroke-width="0.22" dominant-baseline="central">12</text>
<line x1="180.1" y1="242.3" x2="180.1" y2="243.5" stroke="#4a4a4a" stroke-width="0.6"/>
<text x="180.1" y="246.3" font-size="4.4" text-anchor="middle" fill="#2a2a2a" stroke="#2a2a2a" stroke-width="0.22" dominant-baseline="central">15</text>
<line x1="127.6" y1="237.27" x2="138.1" y2="224.69" stroke="#3a3a3a" stroke-width="0.72" stroke-linecap="round"/>
<line x1="138.1" y1="224.69" x2="148.6" y2="222.18" stroke="#3a3a3a" stroke-width="0.72" stroke-linecap="round"/>
<line x1="148.6" y1="222.18" x2="159.1" y2="218.41" stroke="#3a3a3a" stroke-width="0.72" stroke-linecap="round"/>
<line x1="159.1" y1="218.41" x2="169.6" y2="239.78" stroke="#888" stroke-width="0.6" stroke-linecap="round"/>
<line x1="169.6" y1="239.78" x2="180.1" y2="237.27" stroke="#3a3a3a" stroke-width="0.72" stroke-linecap="round"/>
<circle cx="127.6" cy="237.27" r="1.15" fill="#111"/>
<circle cx="138.1" cy="224.69" r="1.15" fill="#111"/>
<circle cx="148.6" cy="222.18" r="1.15" fill="#111"/>
<circle cx="159.1" cy="218.41" r="1.15" fill="#111"/>
<circle cx="169.6" cy="239.78" r="1.15" fill="#111"/>
<circle cx="180.1" cy="237.27" r="1.15" fill="#111"/>
<text x="153.9" y="199.3" font-size="6.2" text-anchor="middle" fill="#1a1a1a" stroke="#1a1a1a" stroke-width="0.16" dominant-baseline="central">Pat 08</text>
<text x="153.9" y="254.3" font-size="4.8" text-anchor="middle" fill="#4a4a4a" stroke="#4a4a4a" stroke-width="0.17" dominant-baseline="central">months</text>
<text x="110.2" y="221.55" font-size="4.5" text-anchor="middle" fill="#4a4a4a" stroke="#4a4a4a" stroke-width="0.16" transform="rotate(-90 110.2 221.55)" dominant-baseline="central">CFQ score</text>
<rect x="215.4" y="233.5" width="63" height="8.8" fill="#d9d9d9"/>
<line x1="215.4" y1="200.8" x2="215.4" y2="242.3" stroke="#4a4a4a" stroke-width="0.7"/>
<line x1="215.4" y1="242.3" x2="278.4" y2="242.3" stroke="#4a4a4a" stroke-width="0.7"/>
<line x1="214.1" y1="200.8" x2="215.4" y2="200.8" stroke="#4a4a4a" stroke-width="0.6"/>
<text x="213.6" y="201.15" font-size="4.5" text-anchor="end" fill="#444" stroke="#444" stroke-width="0.23" dominant-baseline="central">0</text>
<line x1="214.1" y1="213.38" x2="215.4" y2="213.38" stroke="#4a4a4a" stroke-width="0.6"/>
<text x="213.6" y="213.73" font-size="4.5" text-anchor="end" fill="#444" stroke="#444" stroke-width="0.23" dominant-baseline="central">10</text>
<line x1="214.1" y1="225.95" x2="215.4" y2="225.95" stroke="#4a4a4a" stroke-width="0.6"/>
<text x="213.6" y="226.3" font-size="4.5" text-anchor="end" fill="#444" stroke="#444" stroke-width="0.23" dominant-baseline="central">20</text>
<line x1="214.1" y1="238.53" x2="215.4" y2="238.53" stroke="#4a4a4a" stroke-width="0.6"/>
<text x="213.6" y="238.88" font-size="4.5" text-anchor="end" fill="#444" stroke="#444" stroke-width="0.23" dominant-baseline="central">30</text>
<line x1="220.4" y1="242.3" x2="220.4" y2="243.5" stroke="#4a4a4a" stroke-width="0.6"/>
<text x="220.4" y="246.3" font-size="4.4" text-anchor="middle" fill="#2a2a2a" stroke="#2a2a2a" stroke-width="0.22" dominant-baseline="central">pre</text>
<line x1="230.9" y1="242.3" x2="230.9" y2="243.5" stroke="#4a4a4a" stroke-width="0.6"/>
<text x="230.9" y="246.3" font-size="4.4" text-anchor="middle" fill="#2a2a2a" stroke="#2a2a2a" stroke-width="0.22" dominant-baseline="central">3</text>
<line x1="241.4" y1="242.3" x2="241.4" y2="243.5" stroke="#4a4a4a" stroke-width="0.6"/>
<text x="241.4" y="246.3" font-size="4.4" text-anchor="middle" fill="#2a2a2a" stroke="#2a2a2a" stroke-width="0.22" dominant-baseline="central">6</text>
<line x1="251.9" y1="242.3" x2="251.9" y2="243.5" stroke="#4a4a4a" stroke-width="0.6"/>
<text x="251.9" y="246.3" font-size="4.4" text-anchor="middle" fill="#2a2a2a" stroke="#2a2a2a" stroke-width="0.22" dominant-baseline="central">9</text>
<line x1="262.4" y1="242.3" x2="262.4" y2="243.5" stroke="#4a4a4a" stroke-width="0.6"/>
<text x="262.4" y="246.3" font-size="4.4" text-anchor="middle" fill="#2a2a2a" stroke="#2a2a2a" stroke-width="0.22" dominant-baseline="central">12</text>
<line x1="272.9" y1="242.3" x2="272.9" y2="243.5" stroke="#4a4a4a" stroke-width="0.6"/>
<text x="272.9" y="246.3" font-size="4.4" text-anchor="middle" fill="#2a2a2a" stroke="#2a2a2a" stroke-width="0.22" dominant-baseline="central">15</text>
<line x1="220.4" y1="233.5" x2="230.9" y2="234.75" stroke="#3a3a3a" stroke-width="0.72" stroke-linecap="round"/>
<line x1="230.9" y1="234.75" x2="241.4" y2="227.21" stroke="#3a3a3a" stroke-width="0.72" stroke-linecap="round"/>
<line x1="241.4" y1="227.21" x2="251.9" y2="227.21" stroke="#3a3a3a" stroke-width="0.72" stroke-linecap="round"/>
<line x1="251.9" y1="227.21" x2="262.4" y2="224.69" stroke="#3a3a3a" stroke-width="0.72" stroke-linecap="round"/>
<line x1="262.4" y1="224.69" x2="272.9" y2="227.21" stroke="#3a3a3a" stroke-width="0.72" stroke-linecap="round"/>
<circle cx="220.4" cy="233.5" r="1.15" fill="#111"/>
<circle cx="230.9" cy="234.75" r="1.15" fill="#111"/>
<circle cx="241.4" cy="227.21" r="1.15" fill="#111"/>
<circle cx="251.9" cy="227.21" r="1.15" fill="#111"/>
<circle cx="262.4" cy="224.69" r="1.15" fill="#111"/>
<circle cx="272.9" cy="227.21" r="1.15" fill="#111"/>
<text x="246.7" y="199.3" font-size="6.2" text-anchor="middle" fill="#1a1a1a" stroke="#1a1a1a" stroke-width="0.16" dominant-baseline="central">Pat 09</text>
<text x="246.7" y="254.3" font-size="4.8" text-anchor="middle" fill="#4a4a4a" stroke="#4a4a4a" stroke-width="0.17" dominant-baseline="central">months</text>
<text x="203" y="221.55" font-size="4.5" text-anchor="middle" fill="#4a4a4a" stroke="#4a4a4a" stroke-width="0.16" transform="rotate(-90 203 221.55)" dominant-baseline="central">CFQ score</text>
<rect x="308.3" y="227.21" width="63" height="15.09" fill="#d9d9d9"/>
<line x1="308.3" y1="200.8" x2="308.3" y2="242.3" stroke="#4a4a4a" stroke-width="0.7"/>
<line x1="308.3" y1="242.3" x2="371.3" y2="242.3" stroke="#4a4a4a" stroke-width="0.7"/>
<line x1="307" y1="200.8" x2="308.3" y2="200.8" stroke="#4a4a4a" stroke-width="0.6"/>
<text x="306.5" y="201.15" font-size="4.5" text-anchor="end" fill="#444" stroke="#444" stroke-width="0.23" dominant-baseline="central">0</text>
<line x1="307" y1="213.38" x2="308.3" y2="213.38" stroke="#4a4a4a" stroke-width="0.6"/>
<text x="306.5" y="213.73" font-size="4.5" text-anchor="end" fill="#444" stroke="#444" stroke-width="0.23" dominant-baseline="central">10</text>
<line x1="307" y1="225.95" x2="308.3" y2="225.95" stroke="#4a4a4a" stroke-width="0.6"/>
<text x="306.5" y="226.3" font-size="4.5" text-anchor="end" fill="#444" stroke="#444" stroke-width="0.23" dominant-baseline="central">20</text>
<line x1="307" y1="238.53" x2="308.3" y2="238.53" stroke="#4a4a4a" stroke-width="0.6"/>
<text x="306.5" y="238.88" font-size="4.5" text-anchor="end" fill="#444" stroke="#444" stroke-width="0.23" dominant-baseline="central">30</text>
<line x1="313.3" y1="242.3" x2="313.3" y2="243.5" stroke="#4a4a4a" stroke-width="0.6"/>
<text x="313.3" y="246.3" font-size="4.4" text-anchor="middle" fill="#2a2a2a" stroke="#2a2a2a" stroke-width="0.22" dominant-baseline="central">pre</text>
<line x1="323.8" y1="242.3" x2="323.8" y2="243.5" stroke="#4a4a4a" stroke-width="0.6"/>
<text x="323.8" y="246.3" font-size="4.4" text-anchor="middle" fill="#2a2a2a" stroke="#2a2a2a" stroke-width="0.22" dominant-baseline="central">3</text>
<line x1="334.3" y1="242.3" x2="334.3" y2="243.5" stroke="#4a4a4a" stroke-width="0.6"/>
<text x="334.3" y="246.3" font-size="4.4" text-anchor="middle" fill="#2a2a2a" stroke="#2a2a2a" stroke-width="0.22" dominant-baseline="central">6</text>
<line x1="344.8" y1="242.3" x2="344.8" y2="243.5" stroke="#4a4a4a" stroke-width="0.6"/>
<text x="344.8" y="246.3" font-size="4.4" text-anchor="middle" fill="#2a2a2a" stroke="#2a2a2a" stroke-width="0.22" dominant-baseline="central">9</text>
<line x1="355.3" y1="242.3" x2="355.3" y2="243.5" stroke="#4a4a4a" stroke-width="0.6"/>
<text x="355.3" y="246.3" font-size="4.4" text-anchor="middle" fill="#2a2a2a" stroke="#2a2a2a" stroke-width="0.22" dominant-baseline="central">12</text>
<line x1="365.8" y1="242.3" x2="365.8" y2="243.5" stroke="#4a4a4a" stroke-width="0.6"/>
<text x="365.8" y="246.3" font-size="4.4" text-anchor="middle" fill="#2a2a2a" stroke="#2a2a2a" stroke-width="0.22" dominant-baseline="central">15</text>
<line x1="313.3" y1="227.21" x2="323.8" y2="225.95" stroke="#3a3a3a" stroke-width="0.72" stroke-linecap="round"/>
<line x1="323.8" y1="225.95" x2="334.3" y2="227.21" stroke="#3a3a3a" stroke-width="0.72" stroke-linecap="round"/>
<line x1="334.3" y1="227.21" x2="344.8" y2="225.95" stroke="#3a3a3a" stroke-width="0.72" stroke-linecap="round"/>
<line x1="344.8" y1="225.95" x2="355.3" y2="225.95" stroke="#3a3a3a" stroke-width="0.72" stroke-linecap="round"/>
<line x1="355.3" y1="225.95" x2="365.8" y2="227.21" stroke="#3a3a3a" stroke-width="0.72" stroke-linecap="round"/>
<circle cx="313.3" cy="227.21" r="1.15" fill="#111"/>
<circle cx="323.8" cy="225.95" r="1.15" fill="#111"/>
<circle cx="334.3" cy="227.21" r="1.15" fill="#111"/>
<circle cx="344.8" cy="225.95" r="1.15" fill="#111"/>
<circle cx="355.3" cy="225.95" r="1.15" fill="#111"/>
<circle cx="365.8" cy="227.21" r="1.15" fill="#111"/>
<text x="339.6" y="199.3" font-size="6.2" text-anchor="middle" fill="#1a1a1a" stroke="#1a1a1a" stroke-width="0.16" dominant-baseline="central">Pat 10</text>
<text x="339.6" y="254.3" font-size="4.8" text-anchor="middle" fill="#4a4a4a" stroke="#4a4a4a" stroke-width="0.17" dominant-baseline="central">months</text>
<text x="295.9" y="221.55" font-size="4.5" text-anchor="middle" fill="#4a4a4a" stroke="#4a4a4a" stroke-width="0.16" transform="rotate(-90 295.9 221.55)" dominant-baseline="central">CFQ score</text>
<rect x="30.1" y="304.9" width="63" height="6.3" fill="#d9d9d9"/>
<line x1="30.1" y1="269.6" x2="30.1" y2="311.2" stroke="#4a4a4a" stroke-width="0.7"/>
<line x1="30.1" y1="311.2" x2="93.1" y2="311.2" stroke="#4a4a4a" stroke-width="0.7"/>
<line x1="28.8" y1="269.6" x2="30.1" y2="269.6" stroke="#4a4a4a" stroke-width="0.6"/>
<text x="28.3" y="269.95" font-size="4.5" text-anchor="end" fill="#444" stroke="#444" stroke-width="0.23" dominant-baseline="central">0</text>
<line x1="28.8" y1="282.21" x2="30.1" y2="282.21" stroke="#4a4a4a" stroke-width="0.6"/>
<text x="28.3" y="282.56" font-size="4.5" text-anchor="end" fill="#444" stroke="#444" stroke-width="0.23" dominant-baseline="central">10</text>
<line x1="28.8" y1="294.81" x2="30.1" y2="294.81" stroke="#4a4a4a" stroke-width="0.6"/>
<text x="28.3" y="295.16" font-size="4.5" text-anchor="end" fill="#444" stroke="#444" stroke-width="0.23" dominant-baseline="central">20</text>
<line x1="28.8" y1="307.42" x2="30.1" y2="307.42" stroke="#4a4a4a" stroke-width="0.6"/>
<text x="28.3" y="307.77" font-size="4.5" text-anchor="end" fill="#444" stroke="#444" stroke-width="0.23" dominant-baseline="central">30</text>
<line x1="35.1" y1="311.2" x2="35.1" y2="312.4" stroke="#4a4a4a" stroke-width="0.6"/>
<text x="35.1" y="315.2" font-size="4.4" text-anchor="middle" fill="#2a2a2a" stroke="#2a2a2a" stroke-width="0.22" dominant-baseline="central">pre</text>
<line x1="45.6" y1="311.2" x2="45.6" y2="312.4" stroke="#4a4a4a" stroke-width="0.6"/>
<text x="45.6" y="315.2" font-size="4.4" text-anchor="middle" fill="#2a2a2a" stroke="#2a2a2a" stroke-width="0.22" dominant-baseline="central">3</text>
<line x1="56.1" y1="311.2" x2="56.1" y2="312.4" stroke="#4a4a4a" stroke-width="0.6"/>
<text x="56.1" y="315.2" font-size="4.4" text-anchor="middle" fill="#2a2a2a" stroke="#2a2a2a" stroke-width="0.22" dominant-baseline="central">6</text>
<line x1="66.6" y1="311.2" x2="66.6" y2="312.4" stroke="#4a4a4a" stroke-width="0.6"/>
<text x="66.6" y="315.2" font-size="4.4" text-anchor="middle" fill="#2a2a2a" stroke="#2a2a2a" stroke-width="0.22" dominant-baseline="central">9</text>
<line x1="77.1" y1="311.2" x2="77.1" y2="312.4" stroke="#4a4a4a" stroke-width="0.6"/>
<text x="77.1" y="315.2" font-size="4.4" text-anchor="middle" fill="#2a2a2a" stroke="#2a2a2a" stroke-width="0.22" dominant-baseline="central">12</text>
<line x1="87.6" y1="311.2" x2="87.6" y2="312.4" stroke="#4a4a4a" stroke-width="0.6"/>
<text x="87.6" y="315.2" font-size="4.4" text-anchor="middle" fill="#2a2a2a" stroke="#2a2a2a" stroke-width="0.22" dominant-baseline="central">15</text>
<line x1="35.1" y1="304.9" x2="45.6" y2="306.16" stroke="#3a3a3a" stroke-width="0.72" stroke-linecap="round"/>
<line x1="45.6" y1="306.16" x2="56.1" y2="302.38" stroke="#3a3a3a" stroke-width="0.72" stroke-linecap="round"/>
<line x1="56.1" y1="302.38" x2="66.6" y2="289.77" stroke="#3a3a3a" stroke-width="0.72" stroke-linecap="round"/>
<line x1="66.6" y1="289.77" x2="77.1" y2="288.51" stroke="#3a3a3a" stroke-width="0.72" stroke-linecap="round"/>
<line x1="77.1" y1="288.51" x2="87.6" y2="301.12" stroke="#3a3a3a" stroke-width="0.72" stroke-linecap="round"/>
<circle cx="35.1" cy="304.9" r="1.15" fill="#111"/>
<circle cx="45.6" cy="306.16" r="1.15" fill="#111"/>
<circle cx="56.1" cy="302.38" r="1.15" fill="#111"/>
<circle cx="66.6" cy="289.77" r="1.15" fill="#111"/>
<circle cx="77.1" cy="288.51" r="1.15" fill="#111"/>
<circle cx="87.6" cy="301.12" r="1.15" fill="#111"/>
<text x="61.4" y="268.1" font-size="6.2" text-anchor="middle" fill="#1a1a1a" stroke="#1a1a1a" stroke-width="0.16" dominant-baseline="central">Pat 11</text>
<text x="61.4" y="323.2" font-size="4.8" text-anchor="middle" fill="#4a4a4a" stroke="#4a4a4a" stroke-width="0.17" dominant-baseline="central">months</text>
<text x="17.7" y="290.4" font-size="4.5" text-anchor="middle" fill="#4a4a4a" stroke="#4a4a4a" stroke-width="0.16" transform="rotate(-90 17.7 290.4)" dominant-baseline="central">CFQ score</text>
<rect x="122.6" y="307.42" width="63" height="3.78" fill="#d9d9d9"/>
<line x1="122.6" y1="269.6" x2="122.6" y2="311.2" stroke="#4a4a4a" stroke-width="0.7"/>
<line x1="122.6" y1="311.2" x2="185.6" y2="311.2" stroke="#4a4a4a" stroke-width="0.7"/>
<line x1="121.3" y1="269.6" x2="122.6" y2="269.6" stroke="#4a4a4a" stroke-width="0.6"/>
<text x="120.8" y="269.95" font-size="4.5" text-anchor="end" fill="#444" stroke="#444" stroke-width="0.23" dominant-baseline="central">0</text>
<line x1="121.3" y1="282.21" x2="122.6" y2="282.21" stroke="#4a4a4a" stroke-width="0.6"/>
<text x="120.8" y="282.56" font-size="4.5" text-anchor="end" fill="#444" stroke="#444" stroke-width="0.23" dominant-baseline="central">10</text>
<line x1="121.3" y1="294.81" x2="122.6" y2="294.81" stroke="#4a4a4a" stroke-width="0.6"/>
<text x="120.8" y="295.16" font-size="4.5" text-anchor="end" fill="#444" stroke="#444" stroke-width="0.23" dominant-baseline="central">20</text>
<line x1="121.3" y1="307.42" x2="122.6" y2="307.42" stroke="#4a4a4a" stroke-width="0.6"/>
<text x="120.8" y="307.77" font-size="4.5" text-anchor="end" fill="#444" stroke="#444" stroke-width="0.23" dominant-baseline="central">30</text>
<line x1="128" y1="311.2" x2="128" y2="312.4" stroke="#4a4a4a" stroke-width="0.6"/>
<text x="128" y="315.2" font-size="4.4" text-anchor="middle" fill="#2a2a2a" stroke="#2a2a2a" stroke-width="0.22" dominant-baseline="central">pre</text>
<line x1="140.8" y1="311.2" x2="140.8" y2="312.4" stroke="#4a4a4a" stroke-width="0.6"/>
<text x="140.8" y="315.2" font-size="4.4" text-anchor="middle" fill="#2a2a2a" stroke="#2a2a2a" stroke-width="0.22" dominant-baseline="central">3</text>
<line x1="153.6" y1="311.2" x2="153.6" y2="312.4" stroke="#4a4a4a" stroke-width="0.6"/>
<text x="153.6" y="315.2" font-size="4.4" text-anchor="middle" fill="#2a2a2a" stroke="#2a2a2a" stroke-width="0.22" dominant-baseline="central">6</text>
<line x1="166.4" y1="311.2" x2="166.4" y2="312.4" stroke="#4a4a4a" stroke-width="0.6"/>
<text x="166.4" y="315.2" font-size="4.4" text-anchor="middle" fill="#2a2a2a" stroke="#2a2a2a" stroke-width="0.22" dominant-baseline="central">9</text>
<line x1="179.2" y1="311.2" x2="179.2" y2="312.4" stroke="#4a4a4a" stroke-width="0.6"/>
<text x="179.2" y="315.2" font-size="4.4" text-anchor="middle" fill="#2a2a2a" stroke="#2a2a2a" stroke-width="0.22" dominant-baseline="central">12</text>
<line x1="128" y1="307.42" x2="140.8" y2="299.85" stroke="#3a3a3a" stroke-width="0.72" stroke-linecap="round"/>
<line x1="140.8" y1="299.85" x2="153.6" y2="298.59" stroke="#3a3a3a" stroke-width="0.72" stroke-linecap="round"/>
<line x1="153.6" y1="298.59" x2="166.4" y2="289.77" stroke="#3a3a3a" stroke-width="0.72" stroke-linecap="round"/>
<line x1="166.4" y1="289.77" x2="179.2" y2="289.77" stroke="#3a3a3a" stroke-width="0.72" stroke-linecap="round"/>
<circle cx="128" cy="307.42" r="1.15" fill="#111"/>
<circle cx="140.8" cy="299.85" r="1.15" fill="#111"/>
<circle cx="153.6" cy="298.59" r="1.15" fill="#111"/>
<circle cx="166.4" cy="289.77" r="1.15" fill="#111"/>
<circle cx="179.2" cy="289.77" r="1.15" fill="#111"/>
<text x="153.9" y="268.1" font-size="6.2" text-anchor="middle" fill="#1a1a1a" stroke="#1a1a1a" stroke-width="0.16" dominant-baseline="central">Pat 13</text>
<text x="153.9" y="323.2" font-size="4.8" text-anchor="middle" fill="#4a4a4a" stroke="#4a4a4a" stroke-width="0.17" dominant-baseline="central">months</text>
<text x="110.2" y="290.4" font-size="4.5" text-anchor="middle" fill="#4a4a4a" stroke="#4a4a4a" stroke-width="0.16" transform="rotate(-90 110.2 290.4)" dominant-baseline="central">CFQ score</text>
<rect x="215.4" y="304.9" width="63" height="6.3" fill="#d9d9d9"/>
<line x1="215.4" y1="269.6" x2="215.4" y2="311.2" stroke="#4a4a4a" stroke-width="0.7"/>
<line x1="215.4" y1="311.2" x2="278.4" y2="311.2" stroke="#4a4a4a" stroke-width="0.7"/>
<line x1="214.1" y1="269.6" x2="215.4" y2="269.6" stroke="#4a4a4a" stroke-width="0.6"/>
<text x="213.6" y="269.95" font-size="4.5" text-anchor="end" fill="#444" stroke="#444" stroke-width="0.23" dominant-baseline="central">0</text>
<line x1="214.1" y1="282.21" x2="215.4" y2="282.21" stroke="#4a4a4a" stroke-width="0.6"/>
<text x="213.6" y="282.56" font-size="4.5" text-anchor="end" fill="#444" stroke="#444" stroke-width="0.23" dominant-baseline="central">10</text>
<line x1="214.1" y1="294.81" x2="215.4" y2="294.81" stroke="#4a4a4a" stroke-width="0.6"/>
<text x="213.6" y="295.16" font-size="4.5" text-anchor="end" fill="#444" stroke="#444" stroke-width="0.23" dominant-baseline="central">20</text>
<line x1="214.1" y1="307.42" x2="215.4" y2="307.42" stroke="#4a4a4a" stroke-width="0.6"/>
<text x="213.6" y="307.77" font-size="4.5" text-anchor="end" fill="#444" stroke="#444" stroke-width="0.23" dominant-baseline="central">30</text>
<line x1="220.4" y1="311.2" x2="220.4" y2="312.4" stroke="#4a4a4a" stroke-width="0.6"/>
<text x="220.4" y="315.2" font-size="4.4" text-anchor="middle" fill="#2a2a2a" stroke="#2a2a2a" stroke-width="0.22" dominant-baseline="central">pre</text>
<line x1="230.9" y1="311.2" x2="230.9" y2="312.4" stroke="#4a4a4a" stroke-width="0.6"/>
<text x="230.9" y="315.2" font-size="4.4" text-anchor="middle" fill="#2a2a2a" stroke="#2a2a2a" stroke-width="0.22" dominant-baseline="central">3</text>
<line x1="241.4" y1="311.2" x2="241.4" y2="312.4" stroke="#4a4a4a" stroke-width="0.6"/>
<text x="241.4" y="315.2" font-size="4.4" text-anchor="middle" fill="#2a2a2a" stroke="#2a2a2a" stroke-width="0.22" dominant-baseline="central">6</text>
<line x1="251.9" y1="311.2" x2="251.9" y2="312.4" stroke="#4a4a4a" stroke-width="0.6"/>
<text x="251.9" y="315.2" font-size="4.4" text-anchor="middle" fill="#2a2a2a" stroke="#2a2a2a" stroke-width="0.22" dominant-baseline="central">9</text>
<line x1="262.4" y1="311.2" x2="262.4" y2="312.4" stroke="#4a4a4a" stroke-width="0.6"/>
<text x="262.4" y="315.2" font-size="4.4" text-anchor="middle" fill="#2a2a2a" stroke="#2a2a2a" stroke-width="0.22" dominant-baseline="central">12</text>
<line x1="272.9" y1="311.2" x2="272.9" y2="312.4" stroke="#4a4a4a" stroke-width="0.6"/>
<text x="272.9" y="315.2" font-size="4.4" text-anchor="middle" fill="#2a2a2a" stroke="#2a2a2a" stroke-width="0.22" dominant-baseline="central">15</text>
<line x1="220.4" y1="304.9" x2="230.9" y2="311.2" stroke="#3a3a3a" stroke-width="0.72" stroke-linecap="round"/>
<line x1="230.9" y1="311.2" x2="241.4" y2="279.68" stroke="#3a3a3a" stroke-width="0.72" stroke-linecap="round"/>
<line x1="241.4" y1="279.68" x2="251.9" y2="293.55" stroke="#3a3a3a" stroke-width="0.72" stroke-linecap="round"/>
<line x1="251.9" y1="293.55" x2="262.4" y2="298.59" stroke="#3a3a3a" stroke-width="0.72" stroke-linecap="round"/>
<line x1="262.4" y1="298.59" x2="272.9" y2="307.42" stroke="#3a3a3a" stroke-width="0.72" stroke-linecap="round"/>
<circle cx="220.4" cy="304.9" r="1.15" fill="#111"/>
<circle cx="230.9" cy="311.2" r="1.15" fill="#111"/>
<circle cx="241.4" cy="279.68" r="1.15" fill="#111"/>
<circle cx="251.9" cy="293.55" r="1.15" fill="#111"/>
<circle cx="262.4" cy="298.59" r="1.15" fill="#111"/>
<circle cx="272.9" cy="307.42" r="1.15" fill="#111"/>
<text x="246.7" y="268.1" font-size="6.2" text-anchor="middle" fill="#1a1a1a" stroke="#1a1a1a" stroke-width="0.16" dominant-baseline="central">Pat 16</text>
<text x="246.7" y="323.2" font-size="4.8" text-anchor="middle" fill="#4a4a4a" stroke="#4a4a4a" stroke-width="0.17" dominant-baseline="central">months</text>
<text x="203" y="290.4" font-size="4.5" text-anchor="middle" fill="#4a4a4a" stroke="#4a4a4a" stroke-width="0.16" transform="rotate(-90 203 290.4)" dominant-baseline="central">CFQ score</text>
<rect x="308.3" y="303.64" width="63" height="7.56" fill="#d9d9d9"/>
<line x1="308.3" y1="269.6" x2="308.3" y2="311.2" stroke="#4a4a4a" stroke-width="0.7"/>
<line x1="308.3" y1="311.2" x2="371.3" y2="311.2" stroke="#4a4a4a" stroke-width="0.7"/>
<line x1="307" y1="269.6" x2="308.3" y2="269.6" stroke="#4a4a4a" stroke-width="0.6"/>
<text x="306.5" y="269.95" font-size="4.5" text-anchor="end" fill="#444" stroke="#444" stroke-width="0.23" dominant-baseline="central">0</text>
<line x1="307" y1="282.21" x2="308.3" y2="282.21" stroke="#4a4a4a" stroke-width="0.6"/>
<text x="306.5" y="282.56" font-size="4.5" text-anchor="end" fill="#444" stroke="#444" stroke-width="0.23" dominant-baseline="central">10</text>
<line x1="307" y1="294.81" x2="308.3" y2="294.81" stroke="#4a4a4a" stroke-width="0.6"/>
<text x="306.5" y="295.16" font-size="4.5" text-anchor="end" fill="#444" stroke="#444" stroke-width="0.23" dominant-baseline="central">20</text>
<line x1="307" y1="307.42" x2="308.3" y2="307.42" stroke="#4a4a4a" stroke-width="0.6"/>
<text x="306.5" y="307.77" font-size="4.5" text-anchor="end" fill="#444" stroke="#444" stroke-width="0.23" dominant-baseline="central">30</text>
<line x1="313.3" y1="311.2" x2="313.3" y2="312.4" stroke="#4a4a4a" stroke-width="0.6"/>
<text x="313.3" y="315.2" font-size="4.4" text-anchor="middle" fill="#2a2a2a" stroke="#2a2a2a" stroke-width="0.22" dominant-baseline="central">pre</text>
<line x1="323.8" y1="311.2" x2="323.8" y2="312.4" stroke="#4a4a4a" stroke-width="0.6"/>
<text x="323.8" y="315.2" font-size="4.4" text-anchor="middle" fill="#2a2a2a" stroke="#2a2a2a" stroke-width="0.22" dominant-baseline="central">3</text>
<line x1="334.3" y1="311.2" x2="334.3" y2="312.4" stroke="#4a4a4a" stroke-width="0.6"/>
<text x="334.3" y="315.2" font-size="4.4" text-anchor="middle" fill="#2a2a2a" stroke="#2a2a2a" stroke-width="0.22" dominant-baseline="central">6</text>
<line x1="344.8" y1="311.2" x2="344.8" y2="312.4" stroke="#4a4a4a" stroke-width="0.6"/>
<text x="344.8" y="315.2" font-size="4.4" text-anchor="middle" fill="#2a2a2a" stroke="#2a2a2a" stroke-width="0.22" dominant-baseline="central">9</text>
<line x1="355.3" y1="311.2" x2="355.3" y2="312.4" stroke="#4a4a4a" stroke-width="0.6"/>
<text x="355.3" y="315.2" font-size="4.4" text-anchor="middle" fill="#2a2a2a" stroke="#2a2a2a" stroke-width="0.22" dominant-baseline="central">12</text>
<line x1="365.8" y1="311.2" x2="365.8" y2="312.4" stroke="#4a4a4a" stroke-width="0.6"/>
<text x="365.8" y="315.2" font-size="4.4" text-anchor="middle" fill="#2a2a2a" stroke="#2a2a2a" stroke-width="0.22" dominant-baseline="central">15</text>
<line x1="313.3" y1="303.64" x2="323.8" y2="306.16" stroke="#3a3a3a" stroke-width="0.72" stroke-linecap="round"/>
<line x1="323.8" y1="306.16" x2="334.3" y2="306.16" stroke="#3a3a3a" stroke-width="0.72" stroke-linecap="round"/>
<line x1="334.3" y1="306.16" x2="344.8" y2="304.9" stroke="#3a3a3a" stroke-width="0.72" stroke-linecap="round"/>
<line x1="344.8" y1="304.9" x2="355.3" y2="302.38" stroke="#3a3a3a" stroke-width="0.72" stroke-linecap="round"/>
<line x1="355.3" y1="302.38" x2="365.8" y2="303.64" stroke="#3a3a3a" stroke-width="0.72" stroke-linecap="round"/>
<circle cx="313.3" cy="303.64" r="1.15" fill="#111"/>
<circle cx="323.8" cy="306.16" r="1.15" fill="#111"/>
<circle cx="334.3" cy="306.16" r="1.15" fill="#111"/>
<circle cx="344.8" cy="304.9" r="1.15" fill="#111"/>
<circle cx="355.3" cy="302.38" r="1.15" fill="#111"/>
<circle cx="365.8" cy="303.64" r="1.15" fill="#111"/>
<text x="339.6" y="268.1" font-size="6.2" text-anchor="middle" fill="#1a1a1a" stroke="#1a1a1a" stroke-width="0.16" dominant-baseline="central">Pat 17</text>
<text x="339.6" y="323.2" font-size="4.8" text-anchor="middle" fill="#4a4a4a" stroke="#4a4a4a" stroke-width="0.17" dominant-baseline="central">months</text>
<text x="295.9" y="290.4" font-size="4.5" text-anchor="middle" fill="#4a4a4a" stroke="#4a4a4a" stroke-width="0.16" transform="rotate(-90 295.9 290.4)" dominant-baseline="central">CFQ score</text>
<text x="4.4" y="336.4" font-size="9" text-anchor="start" fill="#111" stroke="#111" stroke-width="0.23" font-weight="bold" dominant-baseline="central">(d)</text>
<rect x="30.4" y="389.95" width="56" height="5.55" fill="#d9d9d9"/>
<line x1="30.4" y1="358.5" x2="30.4" y2="395.5" stroke="#4a4a4a" stroke-width="0.7"/>
<line x1="30.4" y1="395.5" x2="86.4" y2="395.5" stroke="#4a4a4a" stroke-width="0.7"/>
<line x1="29.1" y1="395.5" x2="30.4" y2="395.5" stroke="#4a4a4a" stroke-width="0.6"/>
<text x="28.6" y="395.85" font-size="3.8" text-anchor="end" fill="#555" stroke="#555" stroke-width="0.19" dominant-baseline="central">0</text>
<line x1="29.1" y1="388.1" x2="30.4" y2="388.1" stroke="#4a4a4a" stroke-width="0.6"/>
<text x="28.6" y="388.45" font-size="3.8" text-anchor="end" fill="#555" stroke="#555" stroke-width="0.19" dominant-baseline="central">20</text>
<line x1="29.1" y1="380.7" x2="30.4" y2="380.7" stroke="#4a4a4a" stroke-width="0.6"/>
<text x="28.6" y="381.05" font-size="3.8" text-anchor="end" fill="#555" stroke="#555" stroke-width="0.19" dominant-baseline="central">40</text>
<line x1="29.1" y1="373.3" x2="30.4" y2="373.3" stroke="#4a4a4a" stroke-width="0.6"/>
<text x="28.6" y="373.65" font-size="3.8" text-anchor="end" fill="#555" stroke="#555" stroke-width="0.19" dominant-baseline="central">60</text>
<line x1="29.1" y1="365.9" x2="30.4" y2="365.9" stroke="#4a4a4a" stroke-width="0.6"/>
<text x="28.6" y="366.25" font-size="3.8" text-anchor="end" fill="#555" stroke="#555" stroke-width="0.19" dominant-baseline="central">80</text>
<line x1="29.1" y1="358.5" x2="30.4" y2="358.5" stroke="#4a4a4a" stroke-width="0.6"/>
<text x="28.6" y="358.85" font-size="3.8" text-anchor="end" fill="#555" stroke="#555" stroke-width="0.19" dominant-baseline="central">100</text>
<line x1="34.8" y1="395.5" x2="34.8" y2="396.7" stroke="#4a4a4a" stroke-width="0.6"/>
<text x="34.8" y="398.8" font-size="4.1" text-anchor="middle" fill="#2a2a2a" stroke="#2a2a2a" stroke-width="0.2" dominant-baseline="central">pre</text>
<line x1="44.15" y1="395.5" x2="44.15" y2="396.7" stroke="#4a4a4a" stroke-width="0.6"/>
<text x="44.15" y="398.8" font-size="4.1" text-anchor="middle" fill="#2a2a2a" stroke="#2a2a2a" stroke-width="0.2" dominant-baseline="central">3</text>
<line x1="53.5" y1="395.5" x2="53.5" y2="396.7" stroke="#4a4a4a" stroke-width="0.6"/>
<text x="53.5" y="398.8" font-size="4.1" text-anchor="middle" fill="#2a2a2a" stroke="#2a2a2a" stroke-width="0.2" dominant-baseline="central">6</text>
<line x1="62.85" y1="395.5" x2="62.85" y2="396.7" stroke="#4a4a4a" stroke-width="0.6"/>
<text x="62.85" y="398.8" font-size="4.1" text-anchor="middle" fill="#2a2a2a" stroke="#2a2a2a" stroke-width="0.2" dominant-baseline="central">9</text>
<line x1="72.2" y1="395.5" x2="72.2" y2="396.7" stroke="#4a4a4a" stroke-width="0.6"/>
<text x="72.2" y="398.8" font-size="4.1" text-anchor="middle" fill="#2a2a2a" stroke="#2a2a2a" stroke-width="0.2" dominant-baseline="central">12</text>
<line x1="81.55" y1="395.5" x2="81.55" y2="396.7" stroke="#4a4a4a" stroke-width="0.6"/>
<text x="81.55" y="398.8" font-size="4.1" text-anchor="middle" fill="#2a2a2a" stroke="#2a2a2a" stroke-width="0.2" dominant-baseline="central">15</text>
<line x1="34.8" y1="389.95" x2="44.15" y2="389.95" stroke="#3a3a3a" stroke-width="0.72" stroke-linecap="round"/>
<line x1="44.15" y1="389.95" x2="53.5" y2="377" stroke="#3a3a3a" stroke-width="0.72" stroke-linecap="round"/>
<line x1="53.5" y1="377" x2="62.85" y2="382.55" stroke="#3a3a3a" stroke-width="0.72" stroke-linecap="round"/>
<line x1="62.85" y1="382.55" x2="72.2" y2="378.85" stroke="#3a3a3a" stroke-width="0.72" stroke-linecap="round"/>
<line x1="72.2" y1="378.85" x2="81.55" y2="377" stroke="#3a3a3a" stroke-width="0.72" stroke-linecap="round"/>
<circle cx="34.8" cy="389.95" r="1.15" fill="#111"/>
<circle cx="44.15" cy="389.95" r="1.15" fill="#111"/>
<circle cx="53.5" cy="377" r="1.15" fill="#111"/>
<circle cx="62.85" cy="382.55" r="1.15" fill="#111"/>
<circle cx="72.2" cy="378.85" r="1.15" fill="#111"/>
<circle cx="81.55" cy="377" r="1.15" fill="#111"/>
<text x="57.4" y="356.5" font-size="6.2" text-anchor="middle" fill="#1a1a1a" stroke="#1a1a1a" stroke-width="0.16" dominant-baseline="central">Pat 02</text>
<text x="57.4" y="405.6" font-size="3.9" text-anchor="middle" fill="#4a4a4a" stroke="#4a4a4a" stroke-width="0.14" dominant-baseline="central">months</text>
<text x="17.2" y="377" font-size="4" text-anchor="middle" fill="#4a4a4a" stroke="#4a4a4a" stroke-width="0.14" transform="rotate(-90 17.2 377)" dominant-baseline="central">SF-36 score</text>
<rect x="122.7" y="386.25" width="56" height="9.25" fill="#d9d9d9"/>
<line x1="122.7" y1="358.5" x2="122.7" y2="395.5" stroke="#4a4a4a" stroke-width="0.7"/>
<line x1="122.7" y1="395.5" x2="178.7" y2="395.5" stroke="#4a4a4a" stroke-width="0.7"/>
<line x1="121.4" y1="395.5" x2="122.7" y2="395.5" stroke="#4a4a4a" stroke-width="0.6"/>
<text x="120.9" y="395.85" font-size="3.8" text-anchor="end" fill="#555" stroke="#555" stroke-width="0.19" dominant-baseline="central">0</text>
<line x1="121.4" y1="388.1" x2="122.7" y2="388.1" stroke="#4a4a4a" stroke-width="0.6"/>
<text x="120.9" y="388.45" font-size="3.8" text-anchor="end" fill="#555" stroke="#555" stroke-width="0.19" dominant-baseline="central">20</text>
<line x1="121.4" y1="380.7" x2="122.7" y2="380.7" stroke="#4a4a4a" stroke-width="0.6"/>
<text x="120.9" y="381.05" font-size="3.8" text-anchor="end" fill="#555" stroke="#555" stroke-width="0.19" dominant-baseline="central">40</text>
<line x1="121.4" y1="373.3" x2="122.7" y2="373.3" stroke="#4a4a4a" stroke-width="0.6"/>
<text x="120.9" y="373.65" font-size="3.8" text-anchor="end" fill="#555" stroke="#555" stroke-width="0.19" dominant-baseline="central">60</text>
<line x1="121.4" y1="365.9" x2="122.7" y2="365.9" stroke="#4a4a4a" stroke-width="0.6"/>
<text x="120.9" y="366.25" font-size="3.8" text-anchor="end" fill="#555" stroke="#555" stroke-width="0.19" dominant-baseline="central">80</text>
<line x1="121.4" y1="358.5" x2="122.7" y2="358.5" stroke="#4a4a4a" stroke-width="0.6"/>
<text x="120.9" y="358.85" font-size="3.8" text-anchor="end" fill="#555" stroke="#555" stroke-width="0.19" dominant-baseline="central">100</text>
<line x1="127.1" y1="395.5" x2="127.1" y2="396.7" stroke="#4a4a4a" stroke-width="0.6"/>
<text x="127.1" y="398.8" font-size="4.1" text-anchor="middle" fill="#2a2a2a" stroke="#2a2a2a" stroke-width="0.2" dominant-baseline="central">pre</text>
<line x1="136.45" y1="395.5" x2="136.45" y2="396.7" stroke="#4a4a4a" stroke-width="0.6"/>
<text x="136.45" y="398.8" font-size="4.1" text-anchor="middle" fill="#2a2a2a" stroke="#2a2a2a" stroke-width="0.2" dominant-baseline="central">3</text>
<line x1="145.8" y1="395.5" x2="145.8" y2="396.7" stroke="#4a4a4a" stroke-width="0.6"/>
<text x="145.8" y="398.8" font-size="4.1" text-anchor="middle" fill="#2a2a2a" stroke="#2a2a2a" stroke-width="0.2" dominant-baseline="central">6</text>
<line x1="155.15" y1="395.5" x2="155.15" y2="396.7" stroke="#4a4a4a" stroke-width="0.6"/>
<text x="155.15" y="398.8" font-size="4.1" text-anchor="middle" fill="#2a2a2a" stroke="#2a2a2a" stroke-width="0.2" dominant-baseline="central">9</text>
<line x1="164.5" y1="395.5" x2="164.5" y2="396.7" stroke="#4a4a4a" stroke-width="0.6"/>
<text x="164.5" y="398.8" font-size="4.1" text-anchor="middle" fill="#2a2a2a" stroke="#2a2a2a" stroke-width="0.2" dominant-baseline="central">12</text>
<line x1="173.85" y1="395.5" x2="173.85" y2="396.7" stroke="#4a4a4a" stroke-width="0.6"/>
<text x="173.85" y="398.8" font-size="4.1" text-anchor="middle" fill="#2a2a2a" stroke="#2a2a2a" stroke-width="0.2" dominant-baseline="central">15</text>
<line x1="127.1" y1="386.25" x2="136.45" y2="378.85" stroke="#3a3a3a" stroke-width="0.72" stroke-linecap="round"/>
<line x1="136.45" y1="378.85" x2="145.8" y2="373.3" stroke="#3a3a3a" stroke-width="0.72" stroke-linecap="round"/>
<line x1="145.8" y1="373.3" x2="155.15" y2="377" stroke="#3a3a3a" stroke-width="0.72" stroke-linecap="round"/>
<line x1="155.15" y1="377" x2="164.5" y2="380.7" stroke="#3a3a3a" stroke-width="0.72" stroke-linecap="round"/>
<line x1="164.5" y1="380.7" x2="173.85" y2="377" stroke="#3a3a3a" stroke-width="0.72" stroke-linecap="round"/>
<circle cx="127.1" cy="386.25" r="1.15" fill="#111"/>
<circle cx="136.45" cy="378.85" r="1.15" fill="#111"/>
<circle cx="145.8" cy="373.3" r="1.15" fill="#111"/>
<circle cx="155.15" cy="377" r="1.15" fill="#111"/>
<circle cx="164.5" cy="380.7" r="1.15" fill="#111"/>
<circle cx="173.85" cy="377" r="1.15" fill="#111"/>
<text x="149.7" y="356.5" font-size="6.2" text-anchor="middle" fill="#1a1a1a" stroke="#1a1a1a" stroke-width="0.16" dominant-baseline="central">Pat 04</text>
<text x="149.7" y="405.6" font-size="3.9" text-anchor="middle" fill="#4a4a4a" stroke="#4a4a4a" stroke-width="0.14" dominant-baseline="central">months</text>
<text x="109.5" y="377" font-size="4" text-anchor="middle" fill="#4a4a4a" stroke="#4a4a4a" stroke-width="0.14" transform="rotate(-90 109.5 377)" dominant-baseline="central">SF-36 score</text>
<rect x="215.2" y="389.95" width="56" height="5.55" fill="#d9d9d9"/>
<line x1="215.2" y1="358.5" x2="215.2" y2="395.5" stroke="#4a4a4a" stroke-width="0.7"/>
<line x1="215.2" y1="395.5" x2="271.2" y2="395.5" stroke="#4a4a4a" stroke-width="0.7"/>
<line x1="213.9" y1="395.5" x2="215.2" y2="395.5" stroke="#4a4a4a" stroke-width="0.6"/>
<text x="213.4" y="395.85" font-size="3.8" text-anchor="end" fill="#555" stroke="#555" stroke-width="0.19" dominant-baseline="central">0</text>
<line x1="213.9" y1="388.1" x2="215.2" y2="388.1" stroke="#4a4a4a" stroke-width="0.6"/>
<text x="213.4" y="388.45" font-size="3.8" text-anchor="end" fill="#555" stroke="#555" stroke-width="0.19" dominant-baseline="central">20</text>
<line x1="213.9" y1="380.7" x2="215.2" y2="380.7" stroke="#4a4a4a" stroke-width="0.6"/>
<text x="213.4" y="381.05" font-size="3.8" text-anchor="end" fill="#555" stroke="#555" stroke-width="0.19" dominant-baseline="central">40</text>
<line x1="213.9" y1="373.3" x2="215.2" y2="373.3" stroke="#4a4a4a" stroke-width="0.6"/>
<text x="213.4" y="373.65" font-size="3.8" text-anchor="end" fill="#555" stroke="#555" stroke-width="0.19" dominant-baseline="central">60</text>
<line x1="213.9" y1="365.9" x2="215.2" y2="365.9" stroke="#4a4a4a" stroke-width="0.6"/>
<text x="213.4" y="366.25" font-size="3.8" text-anchor="end" fill="#555" stroke="#555" stroke-width="0.19" dominant-baseline="central">80</text>
<line x1="213.9" y1="358.5" x2="215.2" y2="358.5" stroke="#4a4a4a" stroke-width="0.6"/>
<text x="213.4" y="358.85" font-size="3.8" text-anchor="end" fill="#555" stroke="#555" stroke-width="0.19" dominant-baseline="central">100</text>
<line x1="219.6" y1="395.5" x2="219.6" y2="396.7" stroke="#4a4a4a" stroke-width="0.6"/>
<text x="219.6" y="398.8" font-size="4.1" text-anchor="middle" fill="#2a2a2a" stroke="#2a2a2a" stroke-width="0.2" dominant-baseline="central">pre</text>
<line x1="228.95" y1="395.5" x2="228.95" y2="396.7" stroke="#4a4a4a" stroke-width="0.6"/>
<text x="228.95" y="398.8" font-size="4.1" text-anchor="middle" fill="#2a2a2a" stroke="#2a2a2a" stroke-width="0.2" dominant-baseline="central">3</text>
<line x1="238.3" y1="395.5" x2="238.3" y2="396.7" stroke="#4a4a4a" stroke-width="0.6"/>
<text x="238.3" y="398.8" font-size="4.1" text-anchor="middle" fill="#2a2a2a" stroke="#2a2a2a" stroke-width="0.2" dominant-baseline="central">6</text>
<line x1="247.65" y1="395.5" x2="247.65" y2="396.7" stroke="#4a4a4a" stroke-width="0.6"/>
<text x="247.65" y="398.8" font-size="4.1" text-anchor="middle" fill="#2a2a2a" stroke="#2a2a2a" stroke-width="0.2" dominant-baseline="central">9</text>
<line x1="257" y1="395.5" x2="257" y2="396.7" stroke="#4a4a4a" stroke-width="0.6"/>
<text x="257" y="398.8" font-size="4.1" text-anchor="middle" fill="#2a2a2a" stroke="#2a2a2a" stroke-width="0.2" dominant-baseline="central">12</text>
<line x1="266.35" y1="395.5" x2="266.35" y2="396.7" stroke="#4a4a4a" stroke-width="0.6"/>
<text x="266.35" y="398.8" font-size="4.1" text-anchor="middle" fill="#2a2a2a" stroke="#2a2a2a" stroke-width="0.2" dominant-baseline="central">15</text>
<line x1="219.6" y1="389.95" x2="228.95" y2="384.4" stroke="#3a3a3a" stroke-width="0.72" stroke-linecap="round"/>
<line x1="228.95" y1="384.4" x2="238.3" y2="389.95" stroke="#3a3a3a" stroke-width="0.72" stroke-linecap="round"/>
<line x1="238.3" y1="389.95" x2="247.65" y2="389.95" stroke="#3a3a3a" stroke-width="0.72" stroke-linecap="round"/>
<line x1="247.65" y1="389.95" x2="257" y2="389.95" stroke="#3a3a3a" stroke-width="0.72" stroke-linecap="round"/>
<line x1="257" y1="389.95" x2="266.35" y2="389.95" stroke="#3a3a3a" stroke-width="0.72" stroke-linecap="round"/>
<circle cx="219.6" cy="389.95" r="1.15" fill="#111"/>
<circle cx="228.95" cy="384.4" r="1.15" fill="#111"/>
<circle cx="238.3" cy="389.95" r="1.15" fill="#111"/>
<circle cx="247.65" cy="389.95" r="1.15" fill="#111"/>
<circle cx="257" cy="389.95" r="1.15" fill="#111"/>
<circle cx="266.35" cy="389.95" r="1.15" fill="#111"/>
<text x="242.2" y="356.5" font-size="6.2" text-anchor="middle" fill="#1a1a1a" stroke="#1a1a1a" stroke-width="0.16" dominant-baseline="central">Pat 05</text>
<text x="242.2" y="405.6" font-size="3.9" text-anchor="middle" fill="#4a4a4a" stroke="#4a4a4a" stroke-width="0.14" dominant-baseline="central">months</text>
<text x="202" y="377" font-size="4" text-anchor="middle" fill="#4a4a4a" stroke="#4a4a4a" stroke-width="0.14" transform="rotate(-90 202 377)" dominant-baseline="central">SF-36 score</text>
<rect x="308.3" y="390.07" width="56" height="5.43" fill="#d9d9d9"/>
<line x1="308.3" y1="358.5" x2="308.3" y2="395.5" stroke="#4a4a4a" stroke-width="0.7"/>
<line x1="308.3" y1="395.5" x2="364.3" y2="395.5" stroke="#4a4a4a" stroke-width="0.7"/>
<line x1="307" y1="388.1" x2="308.3" y2="388.1" stroke="#4a4a4a" stroke-width="0.6"/>
<text x="306.5" y="388.45" font-size="3.8" text-anchor="end" fill="#555" stroke="#555" stroke-width="0.19" dominant-baseline="central">40</text>
<line x1="307" y1="378.23" x2="308.3" y2="378.23" stroke="#4a4a4a" stroke-width="0.6"/>
<text x="306.5" y="378.58" font-size="3.8" text-anchor="end" fill="#555" stroke="#555" stroke-width="0.19" dominant-baseline="central">60</text>
<line x1="307" y1="368.37" x2="308.3" y2="368.37" stroke="#4a4a4a" stroke-width="0.6"/>
<text x="306.5" y="368.72" font-size="3.8" text-anchor="end" fill="#555" stroke="#555" stroke-width="0.19" dominant-baseline="central">80</text>
<line x1="307" y1="358.5" x2="308.3" y2="358.5" stroke="#4a4a4a" stroke-width="0.6"/>
<text x="306.5" y="358.85" font-size="3.8" text-anchor="end" fill="#555" stroke="#555" stroke-width="0.19" dominant-baseline="central">100</text>
<line x1="312.7" y1="395.5" x2="312.7" y2="396.7" stroke="#4a4a4a" stroke-width="0.6"/>
<text x="312.7" y="398.8" font-size="4.1" text-anchor="middle" fill="#2a2a2a" stroke="#2a2a2a" stroke-width="0.2" dominant-baseline="central">pre</text>
<line x1="322.05" y1="395.5" x2="322.05" y2="396.7" stroke="#4a4a4a" stroke-width="0.6"/>
<text x="322.05" y="398.8" font-size="4.1" text-anchor="middle" fill="#2a2a2a" stroke="#2a2a2a" stroke-width="0.2" dominant-baseline="central">3</text>
<line x1="331.4" y1="395.5" x2="331.4" y2="396.7" stroke="#4a4a4a" stroke-width="0.6"/>
<text x="331.4" y="398.8" font-size="4.1" text-anchor="middle" fill="#2a2a2a" stroke="#2a2a2a" stroke-width="0.2" dominant-baseline="central">6</text>
<line x1="340.75" y1="395.5" x2="340.75" y2="396.7" stroke="#4a4a4a" stroke-width="0.6"/>
<text x="340.75" y="398.8" font-size="4.1" text-anchor="middle" fill="#2a2a2a" stroke="#2a2a2a" stroke-width="0.2" dominant-baseline="central">9</text>
<line x1="350.1" y1="395.5" x2="350.1" y2="396.7" stroke="#4a4a4a" stroke-width="0.6"/>
<text x="350.1" y="398.8" font-size="4.1" text-anchor="middle" fill="#2a2a2a" stroke="#2a2a2a" stroke-width="0.2" dominant-baseline="central">12</text>
<line x1="359.45" y1="395.5" x2="359.45" y2="396.7" stroke="#4a4a4a" stroke-width="0.6"/>
<text x="359.45" y="398.8" font-size="4.1" text-anchor="middle" fill="#2a2a2a" stroke="#2a2a2a" stroke-width="0.2" dominant-baseline="central">15</text>
<line x1="312.7" y1="390.07" x2="322.05" y2="393.03" stroke="#3a3a3a" stroke-width="0.72" stroke-linecap="round"/>
<line x1="322.05" y1="393.03" x2="331.4" y2="388.1" stroke="#3a3a3a" stroke-width="0.72" stroke-linecap="round"/>
<line x1="331.4" y1="388.1" x2="340.75" y2="388.1" stroke="#3a3a3a" stroke-width="0.72" stroke-linecap="round"/>
<line x1="340.75" y1="388.1" x2="350.1" y2="383.17" stroke="#3a3a3a" stroke-width="0.72" stroke-linecap="round"/>
<line x1="350.1" y1="383.17" x2="359.45" y2="383.17" stroke="#3a3a3a" stroke-width="0.72" stroke-linecap="round"/>
<circle cx="312.7" cy="390.07" r="1.15" fill="#111"/>
<circle cx="322.05" cy="393.03" r="1.15" fill="#111"/>
<circle cx="331.4" cy="388.1" r="1.15" fill="#111"/>
<circle cx="340.75" cy="388.1" r="1.15" fill="#111"/>
<circle cx="350.1" cy="383.17" r="1.15" fill="#111"/>
<circle cx="359.45" cy="383.17" r="1.15" fill="#111"/>
<text x="335.3" y="356.5" font-size="6.2" text-anchor="middle" fill="#1a1a1a" stroke="#1a1a1a" stroke-width="0.16" dominant-baseline="central">Pat 06</text>
<text x="335.3" y="405.6" font-size="3.9" text-anchor="middle" fill="#4a4a4a" stroke="#4a4a4a" stroke-width="0.14" dominant-baseline="central">months</text>
<text x="295.1" y="377" font-size="4" text-anchor="middle" fill="#4a4a4a" stroke="#4a4a4a" stroke-width="0.14" transform="rotate(-90 295.1 377)" dominant-baseline="central">SF-36 score</text>
<rect x="30.4" y="451.61" width="56" height="13.29" fill="#d9d9d9"/>
<line x1="30.4" y1="427.7" x2="30.4" y2="464.9" stroke="#4a4a4a" stroke-width="0.7"/>
<line x1="30.4" y1="464.9" x2="86.4" y2="464.9" stroke="#4a4a4a" stroke-width="0.7"/>
<line x1="29.1" y1="459.59" x2="30.4" y2="459.59" stroke="#4a4a4a" stroke-width="0.6"/>
<text x="28.6" y="459.94" font-size="3.8" text-anchor="end" fill="#555" stroke="#555" stroke-width="0.19" dominant-baseline="central">40</text>
<line x1="29.1" y1="448.96" x2="30.4" y2="448.96" stroke="#4a4a4a" stroke-width="0.6"/>
<text x="28.6" y="449.31" font-size="3.8" text-anchor="end" fill="#555" stroke="#555" stroke-width="0.19" dominant-baseline="central">60</text>
<line x1="29.1" y1="438.33" x2="30.4" y2="438.33" stroke="#4a4a4a" stroke-width="0.6"/>
<text x="28.6" y="438.68" font-size="3.8" text-anchor="end" fill="#555" stroke="#555" stroke-width="0.19" dominant-baseline="central">80</text>
<line x1="29.1" y1="427.7" x2="30.4" y2="427.7" stroke="#4a4a4a" stroke-width="0.6"/>
<text x="28.6" y="428.05" font-size="3.8" text-anchor="end" fill="#555" stroke="#555" stroke-width="0.19" dominant-baseline="central">100</text>
<line x1="34.8" y1="464.9" x2="34.8" y2="466.1" stroke="#4a4a4a" stroke-width="0.6"/>
<text x="34.8" y="468.2" font-size="4.1" text-anchor="middle" fill="#2a2a2a" stroke="#2a2a2a" stroke-width="0.2" dominant-baseline="central">pre</text>
<line x1="44.15" y1="464.9" x2="44.15" y2="466.1" stroke="#4a4a4a" stroke-width="0.6"/>
<text x="44.15" y="468.2" font-size="4.1" text-anchor="middle" fill="#2a2a2a" stroke="#2a2a2a" stroke-width="0.2" dominant-baseline="central">3</text>
<line x1="53.5" y1="464.9" x2="53.5" y2="466.1" stroke="#4a4a4a" stroke-width="0.6"/>
<text x="53.5" y="468.2" font-size="4.1" text-anchor="middle" fill="#2a2a2a" stroke="#2a2a2a" stroke-width="0.2" dominant-baseline="central">6</text>
<line x1="62.85" y1="464.9" x2="62.85" y2="466.1" stroke="#4a4a4a" stroke-width="0.6"/>
<text x="62.85" y="468.2" font-size="4.1" text-anchor="middle" fill="#2a2a2a" stroke="#2a2a2a" stroke-width="0.2" dominant-baseline="central">9</text>
<line x1="72.2" y1="464.9" x2="72.2" y2="466.1" stroke="#4a4a4a" stroke-width="0.6"/>
<text x="72.2" y="468.2" font-size="4.1" text-anchor="middle" fill="#2a2a2a" stroke="#2a2a2a" stroke-width="0.2" dominant-baseline="central">12</text>
<line x1="81.55" y1="464.9" x2="81.55" y2="466.1" stroke="#4a4a4a" stroke-width="0.6"/>
<text x="81.55" y="468.2" font-size="4.1" text-anchor="middle" fill="#2a2a2a" stroke="#2a2a2a" stroke-width="0.2" dominant-baseline="central">15</text>
<line x1="34.8" y1="451.61" x2="44.15" y2="459.59" stroke="#3a3a3a" stroke-width="0.72" stroke-linecap="round"/>
<line x1="44.15" y1="459.59" x2="53.5" y2="446.3" stroke="#3a3a3a" stroke-width="0.72" stroke-linecap="round"/>
<line x1="53.5" y1="446.3" x2="62.85" y2="451.61" stroke="#3a3a3a" stroke-width="0.72" stroke-linecap="round"/>
<line x1="62.85" y1="451.61" x2="72.2" y2="448.96" stroke="#3a3a3a" stroke-width="0.72" stroke-linecap="round"/>
<line x1="72.2" y1="448.96" x2="81.55" y2="451.61" stroke="#3a3a3a" stroke-width="0.72" stroke-linecap="round"/>
<circle cx="34.8" cy="451.61" r="1.15" fill="#111"/>
<circle cx="44.15" cy="459.59" r="1.15" fill="#111"/>
<circle cx="53.5" cy="446.3" r="1.15" fill="#111"/>
<circle cx="62.85" cy="451.61" r="1.15" fill="#111"/>
<circle cx="72.2" cy="448.96" r="1.15" fill="#111"/>
<circle cx="81.55" cy="451.61" r="1.15" fill="#111"/>
<text x="57.4" y="425.7" font-size="6.2" text-anchor="middle" fill="#1a1a1a" stroke="#1a1a1a" stroke-width="0.16" dominant-baseline="central">Pat 07</text>
<text x="57.4" y="475" font-size="3.9" text-anchor="middle" fill="#4a4a4a" stroke="#4a4a4a" stroke-width="0.14" dominant-baseline="central">months</text>
<text x="17.2" y="446.3" font-size="4" text-anchor="middle" fill="#4a4a4a" stroke="#4a4a4a" stroke-width="0.14" transform="rotate(-90 17.2 446.3)" dominant-baseline="central">SF-36 score</text>
<rect x="122.7" y="461.18" width="56" height="3.72" fill="#d9d9d9"/>
<line x1="122.7" y1="427.7" x2="122.7" y2="464.9" stroke="#4a4a4a" stroke-width="0.7"/>
<line x1="122.7" y1="464.9" x2="178.7" y2="464.9" stroke="#4a4a4a" stroke-width="0.7"/>
<line x1="121.4" y1="464.9" x2="122.7" y2="464.9" stroke="#4a4a4a" stroke-width="0.6"/>
<text x="120.9" y="465.25" font-size="3.8" text-anchor="end" fill="#555" stroke="#555" stroke-width="0.19" dominant-baseline="central">0</text>
<line x1="121.4" y1="457.46" x2="122.7" y2="457.46" stroke="#4a4a4a" stroke-width="0.6"/>
<text x="120.9" y="457.81" font-size="3.8" text-anchor="end" fill="#555" stroke="#555" stroke-width="0.19" dominant-baseline="central">20</text>
<line x1="121.4" y1="450.02" x2="122.7" y2="450.02" stroke="#4a4a4a" stroke-width="0.6"/>
<text x="120.9" y="450.37" font-size="3.8" text-anchor="end" fill="#555" stroke="#555" stroke-width="0.19" dominant-baseline="central">40</text>
<line x1="121.4" y1="442.58" x2="122.7" y2="442.58" stroke="#4a4a4a" stroke-width="0.6"/>
<text x="120.9" y="442.93" font-size="3.8" text-anchor="end" fill="#555" stroke="#555" stroke-width="0.19" dominant-baseline="central">60</text>
<line x1="121.4" y1="435.14" x2="122.7" y2="435.14" stroke="#4a4a4a" stroke-width="0.6"/>
<text x="120.9" y="435.49" font-size="3.8" text-anchor="end" fill="#555" stroke="#555" stroke-width="0.19" dominant-baseline="central">80</text>
<line x1="121.4" y1="427.7" x2="122.7" y2="427.7" stroke="#4a4a4a" stroke-width="0.6"/>
<text x="120.9" y="428.05" font-size="3.8" text-anchor="end" fill="#555" stroke="#555" stroke-width="0.19" dominant-baseline="central">100</text>
<line x1="127.1" y1="464.9" x2="127.1" y2="466.1" stroke="#4a4a4a" stroke-width="0.6"/>
<text x="127.1" y="468.2" font-size="4.1" text-anchor="middle" fill="#2a2a2a" stroke="#2a2a2a" stroke-width="0.2" dominant-baseline="central">pre</text>
<line x1="136.45" y1="464.9" x2="136.45" y2="466.1" stroke="#4a4a4a" stroke-width="0.6"/>
<text x="136.45" y="468.2" font-size="4.1" text-anchor="middle" fill="#2a2a2a" stroke="#2a2a2a" stroke-width="0.2" dominant-baseline="central">3</text>
<line x1="145.8" y1="464.9" x2="145.8" y2="466.1" stroke="#4a4a4a" stroke-width="0.6"/>
<text x="145.8" y="468.2" font-size="4.1" text-anchor="middle" fill="#2a2a2a" stroke="#2a2a2a" stroke-width="0.2" dominant-baseline="central">6</text>
<line x1="155.15" y1="464.9" x2="155.15" y2="466.1" stroke="#4a4a4a" stroke-width="0.6"/>
<text x="155.15" y="468.2" font-size="4.1" text-anchor="middle" fill="#2a2a2a" stroke="#2a2a2a" stroke-width="0.2" dominant-baseline="central">9</text>
<line x1="164.5" y1="464.9" x2="164.5" y2="466.1" stroke="#4a4a4a" stroke-width="0.6"/>
<text x="164.5" y="468.2" font-size="4.1" text-anchor="middle" fill="#2a2a2a" stroke="#2a2a2a" stroke-width="0.2" dominant-baseline="central">12</text>
<line x1="173.85" y1="464.9" x2="173.85" y2="466.1" stroke="#4a4a4a" stroke-width="0.6"/>
<text x="173.85" y="468.2" font-size="4.1" text-anchor="middle" fill="#2a2a2a" stroke="#2a2a2a" stroke-width="0.2" dominant-baseline="central">15</text>
<line x1="127.1" y1="461.18" x2="136.45" y2="457.46" stroke="#3a3a3a" stroke-width="0.72" stroke-linecap="round"/>
<line x1="136.45" y1="457.46" x2="145.8" y2="461.18" stroke="#3a3a3a" stroke-width="0.72" stroke-linecap="round"/>
<line x1="145.8" y1="461.18" x2="155.15" y2="461.18" stroke="#3a3a3a" stroke-width="0.72" stroke-linecap="round"/>
<line x1="155.15" y1="461.18" x2="164.5" y2="461.18" stroke="#3a3a3a" stroke-width="0.72" stroke-linecap="round"/>
<line x1="164.5" y1="461.18" x2="173.85" y2="464.9" stroke="#3a3a3a" stroke-width="0.72" stroke-linecap="round"/>
<circle cx="127.1" cy="461.18" r="1.15" fill="#111"/>
<circle cx="136.45" cy="457.46" r="1.15" fill="#111"/>
<circle cx="145.8" cy="461.18" r="1.15" fill="#111"/>
<circle cx="155.15" cy="461.18" r="1.15" fill="#111"/>
<circle cx="164.5" cy="461.18" r="1.15" fill="#111"/>
<circle cx="173.85" cy="464.9" r="1.15" fill="#111"/>
<text x="149.7" y="425.7" font-size="6.2" text-anchor="middle" fill="#1a1a1a" stroke="#1a1a1a" stroke-width="0.16" dominant-baseline="central">Pat 08</text>
<text x="149.7" y="475" font-size="3.9" text-anchor="middle" fill="#4a4a4a" stroke="#4a4a4a" stroke-width="0.14" dominant-baseline="central">months</text>
<text x="109.5" y="446.3" font-size="4" text-anchor="middle" fill="#4a4a4a" stroke="#4a4a4a" stroke-width="0.14" transform="rotate(-90 109.5 446.3)" dominant-baseline="central">SF-36 score</text>
<rect x="214" y="443.84" width="56" height="22.26" fill="#d9d9d9"/>
<line x1="214" y1="429" x2="214" y2="466.1" stroke="#4a4a4a" stroke-width="0.7"/>
<line x1="214" y1="466.1" x2="270" y2="466.1" stroke="#4a4a4a" stroke-width="0.7"/>
<line x1="212.7" y1="466.1" x2="214" y2="466.1" stroke="#4a4a4a" stroke-width="0.6"/>
<text x="212.2" y="466.45" font-size="3.8" text-anchor="end" fill="#555" stroke="#555" stroke-width="0.19" dominant-baseline="central">0</text>
<line x1="212.7" y1="458.68" x2="214" y2="458.68" stroke="#4a4a4a" stroke-width="0.6"/>
<text x="212.2" y="459.03" font-size="3.8" text-anchor="end" fill="#555" stroke="#555" stroke-width="0.19" dominant-baseline="central">20</text>
<line x1="212.7" y1="451.26" x2="214" y2="451.26" stroke="#4a4a4a" stroke-width="0.6"/>
<text x="212.2" y="451.61" font-size="3.8" text-anchor="end" fill="#555" stroke="#555" stroke-width="0.19" dominant-baseline="central">40</text>
<line x1="212.7" y1="443.84" x2="214" y2="443.84" stroke="#4a4a4a" stroke-width="0.6"/>
<text x="212.2" y="444.19" font-size="3.8" text-anchor="end" fill="#555" stroke="#555" stroke-width="0.19" dominant-baseline="central">60</text>
<line x1="212.7" y1="436.42" x2="214" y2="436.42" stroke="#4a4a4a" stroke-width="0.6"/>
<text x="212.2" y="436.77" font-size="3.8" text-anchor="end" fill="#555" stroke="#555" stroke-width="0.19" dominant-baseline="central">80</text>
<line x1="212.7" y1="429" x2="214" y2="429" stroke="#4a4a4a" stroke-width="0.6"/>
<text x="212.2" y="429.35" font-size="3.8" text-anchor="end" fill="#555" stroke="#555" stroke-width="0.19" dominant-baseline="central">100</text>
<line x1="218.4" y1="466.1" x2="218.4" y2="467.3" stroke="#4a4a4a" stroke-width="0.6"/>
<text x="218.4" y="469.4" font-size="4.1" text-anchor="middle" fill="#2a2a2a" stroke="#2a2a2a" stroke-width="0.2" dominant-baseline="central">pre</text>
<line x1="227.75" y1="466.1" x2="227.75" y2="467.3" stroke="#4a4a4a" stroke-width="0.6"/>
<text x="227.75" y="469.4" font-size="4.1" text-anchor="middle" fill="#2a2a2a" stroke="#2a2a2a" stroke-width="0.2" dominant-baseline="central">3</text>
<line x1="237.1" y1="466.1" x2="237.1" y2="467.3" stroke="#4a4a4a" stroke-width="0.6"/>
<text x="237.1" y="469.4" font-size="4.1" text-anchor="middle" fill="#2a2a2a" stroke="#2a2a2a" stroke-width="0.2" dominant-baseline="central">6</text>
<line x1="246.45" y1="466.1" x2="246.45" y2="467.3" stroke="#4a4a4a" stroke-width="0.6"/>
<text x="246.45" y="469.4" font-size="4.1" text-anchor="middle" fill="#2a2a2a" stroke="#2a2a2a" stroke-width="0.2" dominant-baseline="central">9</text>
<line x1="255.8" y1="466.1" x2="255.8" y2="467.3" stroke="#4a4a4a" stroke-width="0.6"/>
<text x="255.8" y="469.4" font-size="4.1" text-anchor="middle" fill="#2a2a2a" stroke="#2a2a2a" stroke-width="0.2" dominant-baseline="central">12</text>
<line x1="265.15" y1="466.1" x2="265.15" y2="467.3" stroke="#4a4a4a" stroke-width="0.6"/>
<text x="265.15" y="469.4" font-size="4.1" text-anchor="middle" fill="#2a2a2a" stroke="#2a2a2a" stroke-width="0.2" dominant-baseline="central">15</text>
<line x1="218.4" y1="443.84" x2="227.75" y2="449.41" stroke="#3a3a3a" stroke-width="0.72" stroke-linecap="round"/>
<line x1="227.75" y1="449.41" x2="237.1" y2="447.55" stroke="#3a3a3a" stroke-width="0.72" stroke-linecap="round"/>
<line x1="237.1" y1="447.55" x2="246.45" y2="434.56" stroke="#3a3a3a" stroke-width="0.72" stroke-linecap="round"/>
<line x1="246.45" y1="434.56" x2="255.8" y2="436.42" stroke="#3a3a3a" stroke-width="0.72" stroke-linecap="round"/>
<line x1="255.8" y1="436.42" x2="265.15" y2="445.69" stroke="#3a3a3a" stroke-width="0.72" stroke-linecap="round"/>
<circle cx="218.4" cy="443.84" r="1.15" fill="#111"/>
<circle cx="227.75" cy="449.41" r="1.15" fill="#111"/>
<circle cx="237.1" cy="447.55" r="1.15" fill="#111"/>
<circle cx="246.45" cy="434.56" r="1.15" fill="#111"/>
<circle cx="255.8" cy="436.42" r="1.15" fill="#111"/>
<circle cx="265.15" cy="445.69" r="1.15" fill="#111"/>
<text x="241" y="427" font-size="6.2" text-anchor="middle" fill="#1a1a1a" stroke="#1a1a1a" stroke-width="0.16" dominant-baseline="central">Pat 09</text>
<text x="241" y="476.2" font-size="3.9" text-anchor="middle" fill="#4a4a4a" stroke="#4a4a4a" stroke-width="0.14" dominant-baseline="central">months</text>
<text x="200.8" y="447.55" font-size="4" text-anchor="middle" fill="#4a4a4a" stroke="#4a4a4a" stroke-width="0.14" transform="rotate(-90 200.8 447.55)" dominant-baseline="central">SF-36 score</text>
<rect x="308.3" y="453.45" width="56" height="11.45" fill="#d9d9d9"/>
<line x1="308.3" y1="427.7" x2="308.3" y2="464.9" stroke="#4a4a4a" stroke-width="0.7"/>
<line x1="308.3" y1="464.9" x2="364.3" y2="464.9" stroke="#4a4a4a" stroke-width="0.7"/>
<line x1="307" y1="462.04" x2="308.3" y2="462.04" stroke="#4a4a4a" stroke-width="0.6"/>
<text x="306.5" y="462.39" font-size="3.8" text-anchor="end" fill="#555" stroke="#555" stroke-width="0.19" dominant-baseline="central">40</text>
<line x1="307" y1="450.59" x2="308.3" y2="450.59" stroke="#4a4a4a" stroke-width="0.6"/>
<text x="306.5" y="450.94" font-size="3.8" text-anchor="end" fill="#555" stroke="#555" stroke-width="0.19" dominant-baseline="central">60</text>
<line x1="307" y1="439.15" x2="308.3" y2="439.15" stroke="#4a4a4a" stroke-width="0.6"/>
<text x="306.5" y="439.5" font-size="3.8" text-anchor="end" fill="#555" stroke="#555" stroke-width="0.19" dominant-baseline="central">80</text>
<line x1="307" y1="427.7" x2="308.3" y2="427.7" stroke="#4a4a4a" stroke-width="0.6"/>
<text x="306.5" y="428.05" font-size="3.8" text-anchor="end" fill="#555" stroke="#555" stroke-width="0.19" dominant-baseline="central">100</text>
<line x1="312.7" y1="464.9" x2="312.7" y2="466.1" stroke="#4a4a4a" stroke-width="0.6"/>
<text x="312.7" y="468.2" font-size="4.1" text-anchor="middle" fill="#2a2a2a" stroke="#2a2a2a" stroke-width="0.2" dominant-baseline="central">pre</text>
<line x1="322.05" y1="464.9" x2="322.05" y2="466.1" stroke="#4a4a4a" stroke-width="0.6"/>
<text x="322.05" y="468.2" font-size="4.1" text-anchor="middle" fill="#2a2a2a" stroke="#2a2a2a" stroke-width="0.2" dominant-baseline="central">3</text>
<line x1="331.4" y1="464.9" x2="331.4" y2="466.1" stroke="#4a4a4a" stroke-width="0.6"/>
<text x="331.4" y="468.2" font-size="4.1" text-anchor="middle" fill="#2a2a2a" stroke="#2a2a2a" stroke-width="0.2" dominant-baseline="central">6</text>
<line x1="340.75" y1="464.9" x2="340.75" y2="466.1" stroke="#4a4a4a" stroke-width="0.6"/>
<text x="340.75" y="468.2" font-size="4.1" text-anchor="middle" fill="#2a2a2a" stroke="#2a2a2a" stroke-width="0.2" dominant-baseline="central">9</text>
<line x1="350.1" y1="464.9" x2="350.1" y2="466.1" stroke="#4a4a4a" stroke-width="0.6"/>
<text x="350.1" y="468.2" font-size="4.1" text-anchor="middle" fill="#2a2a2a" stroke="#2a2a2a" stroke-width="0.2" dominant-baseline="central">12</text>
<line x1="359.45" y1="464.9" x2="359.45" y2="466.1" stroke="#4a4a4a" stroke-width="0.6"/>
<text x="359.45" y="468.2" font-size="4.1" text-anchor="middle" fill="#2a2a2a" stroke="#2a2a2a" stroke-width="0.2" dominant-baseline="central">15</text>
<line x1="312.7" y1="453.45" x2="322.05" y2="456.32" stroke="#3a3a3a" stroke-width="0.72" stroke-linecap="round"/>
<line x1="322.05" y1="456.32" x2="331.4" y2="456.32" stroke="#3a3a3a" stroke-width="0.72" stroke-linecap="round"/>
<line x1="331.4" y1="456.32" x2="340.75" y2="459.18" stroke="#3a3a3a" stroke-width="0.72" stroke-linecap="round"/>
<line x1="340.75" y1="459.18" x2="350.1" y2="462.04" stroke="#3a3a3a" stroke-width="0.72" stroke-linecap="round"/>
<line x1="350.1" y1="462.04" x2="359.45" y2="462.04" stroke="#3a3a3a" stroke-width="0.72" stroke-linecap="round"/>
<circle cx="312.7" cy="453.45" r="1.15" fill="#111"/>
<circle cx="322.05" cy="456.32" r="1.15" fill="#111"/>
<circle cx="331.4" cy="456.32" r="1.15" fill="#111"/>
<circle cx="340.75" cy="459.18" r="1.15" fill="#111"/>
<circle cx="350.1" cy="462.04" r="1.15" fill="#111"/>
<circle cx="359.45" cy="462.04" r="1.15" fill="#111"/>
<text x="335.3" y="425.7" font-size="6.2" text-anchor="middle" fill="#1a1a1a" stroke="#1a1a1a" stroke-width="0.16" dominant-baseline="central">Pat 10</text>
<text x="335.3" y="475" font-size="3.9" text-anchor="middle" fill="#4a4a4a" stroke="#4a4a4a" stroke-width="0.14" dominant-baseline="central">months</text>
<text x="295.1" y="446.3" font-size="4" text-anchor="middle" fill="#4a4a4a" stroke="#4a4a4a" stroke-width="0.14" transform="rotate(-90 295.1 446.3)" dominant-baseline="central">SF-36 score</text>
<rect x="30.4" y="533.41" width="56" height="1.89" fill="#d9d9d9"/>
<line x1="30.4" y1="497.5" x2="30.4" y2="535.3" stroke="#4a4a4a" stroke-width="0.7"/>
<line x1="30.4" y1="535.3" x2="86.4" y2="535.3" stroke="#4a4a4a" stroke-width="0.7"/>
<line x1="29.1" y1="535.3" x2="30.4" y2="535.3" stroke="#4a4a4a" stroke-width="0.6"/>
<text x="28.6" y="535.65" font-size="3.8" text-anchor="end" fill="#555" stroke="#555" stroke-width="0.19" dominant-baseline="central">0</text>
<line x1="29.1" y1="527.74" x2="30.4" y2="527.74" stroke="#4a4a4a" stroke-width="0.6"/>
<text x="28.6" y="528.09" font-size="3.8" text-anchor="end" fill="#555" stroke="#555" stroke-width="0.19" dominant-baseline="central">20</text>
<line x1="29.1" y1="520.18" x2="30.4" y2="520.18" stroke="#4a4a4a" stroke-width="0.6"/>
<text x="28.6" y="520.53" font-size="3.8" text-anchor="end" fill="#555" stroke="#555" stroke-width="0.19" dominant-baseline="central">40</text>
<line x1="29.1" y1="512.62" x2="30.4" y2="512.62" stroke="#4a4a4a" stroke-width="0.6"/>
<text x="28.6" y="512.97" font-size="3.8" text-anchor="end" fill="#555" stroke="#555" stroke-width="0.19" dominant-baseline="central">60</text>
<line x1="29.1" y1="505.06" x2="30.4" y2="505.06" stroke="#4a4a4a" stroke-width="0.6"/>
<text x="28.6" y="505.41" font-size="3.8" text-anchor="end" fill="#555" stroke="#555" stroke-width="0.19" dominant-baseline="central">80</text>
<line x1="29.1" y1="497.5" x2="30.4" y2="497.5" stroke="#4a4a4a" stroke-width="0.6"/>
<text x="28.6" y="497.85" font-size="3.8" text-anchor="end" fill="#555" stroke="#555" stroke-width="0.19" dominant-baseline="central">100</text>
<line x1="34.8" y1="535.3" x2="34.8" y2="536.5" stroke="#4a4a4a" stroke-width="0.6"/>
<text x="34.8" y="538.6" font-size="4.1" text-anchor="middle" fill="#2a2a2a" stroke="#2a2a2a" stroke-width="0.2" dominant-baseline="central">pre</text>
<line x1="44.15" y1="535.3" x2="44.15" y2="536.5" stroke="#4a4a4a" stroke-width="0.6"/>
<text x="44.15" y="538.6" font-size="4.1" text-anchor="middle" fill="#2a2a2a" stroke="#2a2a2a" stroke-width="0.2" dominant-baseline="central">3</text>
<line x1="53.5" y1="535.3" x2="53.5" y2="536.5" stroke="#4a4a4a" stroke-width="0.6"/>
<text x="53.5" y="538.6" font-size="4.1" text-anchor="middle" fill="#2a2a2a" stroke="#2a2a2a" stroke-width="0.2" dominant-baseline="central">6</text>
<line x1="62.85" y1="535.3" x2="62.85" y2="536.5" stroke="#4a4a4a" stroke-width="0.6"/>
<text x="62.85" y="538.6" font-size="4.1" text-anchor="middle" fill="#2a2a2a" stroke="#2a2a2a" stroke-width="0.2" dominant-baseline="central">9</text>
<line x1="72.2" y1="535.3" x2="72.2" y2="536.5" stroke="#4a4a4a" stroke-width="0.6"/>
<text x="72.2" y="538.6" font-size="4.1" text-anchor="middle" fill="#2a2a2a" stroke="#2a2a2a" stroke-width="0.2" dominant-baseline="central">12</text>
<line x1="81.55" y1="535.3" x2="81.55" y2="536.5" stroke="#4a4a4a" stroke-width="0.6"/>
<text x="81.55" y="538.6" font-size="4.1" text-anchor="middle" fill="#2a2a2a" stroke="#2a2a2a" stroke-width="0.2" dominant-baseline="central">15</text>
<line x1="34.8" y1="533.41" x2="44.15" y2="531.52" stroke="#3a3a3a" stroke-width="0.72" stroke-linecap="round"/>
<line x1="44.15" y1="531.52" x2="53.5" y2="525.85" stroke="#3a3a3a" stroke-width="0.72" stroke-linecap="round"/>
<line x1="53.5" y1="525.85" x2="62.85" y2="520.18" stroke="#3a3a3a" stroke-width="0.72" stroke-linecap="round"/>
<line x1="62.85" y1="520.18" x2="72.2" y2="533.41" stroke="#3a3a3a" stroke-width="0.72" stroke-linecap="round"/>
<line x1="72.2" y1="533.41" x2="81.55" y2="533.41" stroke="#3a3a3a" stroke-width="0.72" stroke-linecap="round"/>
<circle cx="34.8" cy="533.41" r="1.15" fill="#111"/>
<circle cx="44.15" cy="531.52" r="1.15" fill="#111"/>
<circle cx="53.5" cy="525.85" r="1.15" fill="#111"/>
<circle cx="62.85" cy="520.18" r="1.15" fill="#111"/>
<circle cx="72.2" cy="533.41" r="1.15" fill="#111"/>
<circle cx="81.55" cy="533.41" r="1.15" fill="#111"/>
<text x="57.4" y="495.5" font-size="6.2" text-anchor="middle" fill="#1a1a1a" stroke="#1a1a1a" stroke-width="0.16" dominant-baseline="central">Pat 11</text>
<text x="57.4" y="545.4" font-size="3.9" text-anchor="middle" fill="#4a4a4a" stroke="#4a4a4a" stroke-width="0.14" dominant-baseline="central">months</text>
<text x="17.2" y="516.4" font-size="4" text-anchor="middle" fill="#4a4a4a" stroke="#4a4a4a" stroke-width="0.14" transform="rotate(-90 17.2 516.4)" dominant-baseline="central">SF-36 score</text>
<line x1="122.7" y1="497.5" x2="122.7" y2="535.3" stroke="#4a4a4a" stroke-width="0.7"/>
<line x1="122.7" y1="535.3" x2="178.7" y2="535.3" stroke="#4a4a4a" stroke-width="0.7"/>
<line x1="121.4" y1="535.3" x2="122.7" y2="535.3" stroke="#4a4a4a" stroke-width="0.6"/>
<text x="120.9" y="535.65" font-size="3.8" text-anchor="end" fill="#555" stroke="#555" stroke-width="0.19" dominant-baseline="central">0</text>
<line x1="121.4" y1="527.74" x2="122.7" y2="527.74" stroke="#4a4a4a" stroke-width="0.6"/>
<text x="120.9" y="528.09" font-size="3.8" text-anchor="end" fill="#555" stroke="#555" stroke-width="0.19" dominant-baseline="central">20</text>
<line x1="121.4" y1="520.18" x2="122.7" y2="520.18" stroke="#4a4a4a" stroke-width="0.6"/>
<text x="120.9" y="520.53" font-size="3.8" text-anchor="end" fill="#555" stroke="#555" stroke-width="0.19" dominant-baseline="central">40</text>
<line x1="121.4" y1="512.62" x2="122.7" y2="512.62" stroke="#4a4a4a" stroke-width="0.6"/>
<text x="120.9" y="512.97" font-size="3.8" text-anchor="end" fill="#555" stroke="#555" stroke-width="0.19" dominant-baseline="central">60</text>
<line x1="121.4" y1="505.06" x2="122.7" y2="505.06" stroke="#4a4a4a" stroke-width="0.6"/>
<text x="120.9" y="505.41" font-size="3.8" text-anchor="end" fill="#555" stroke="#555" stroke-width="0.19" dominant-baseline="central">80</text>
<line x1="121.4" y1="497.5" x2="122.7" y2="497.5" stroke="#4a4a4a" stroke-width="0.6"/>
<text x="120.9" y="497.85" font-size="3.8" text-anchor="end" fill="#555" stroke="#555" stroke-width="0.19" dominant-baseline="central">100</text>
<line x1="127.7" y1="535.3" x2="127.7" y2="536.5" stroke="#4a4a4a" stroke-width="0.6"/>
<text x="127.7" y="538.6" font-size="4.1" text-anchor="middle" fill="#2a2a2a" stroke="#2a2a2a" stroke-width="0.2" dominant-baseline="central">pre</text>
<line x1="139.1" y1="535.3" x2="139.1" y2="536.5" stroke="#4a4a4a" stroke-width="0.6"/>
<text x="139.1" y="538.6" font-size="4.1" text-anchor="middle" fill="#2a2a2a" stroke="#2a2a2a" stroke-width="0.2" dominant-baseline="central">3</text>
<line x1="150.5" y1="535.3" x2="150.5" y2="536.5" stroke="#4a4a4a" stroke-width="0.6"/>
<text x="150.5" y="538.6" font-size="4.1" text-anchor="middle" fill="#2a2a2a" stroke="#2a2a2a" stroke-width="0.2" dominant-baseline="central">6</text>
<line x1="161.9" y1="535.3" x2="161.9" y2="536.5" stroke="#4a4a4a" stroke-width="0.6"/>
<text x="161.9" y="538.6" font-size="4.1" text-anchor="middle" fill="#2a2a2a" stroke="#2a2a2a" stroke-width="0.2" dominant-baseline="central">9</text>
<line x1="173.3" y1="535.3" x2="173.3" y2="536.5" stroke="#4a4a4a" stroke-width="0.6"/>
<text x="173.3" y="538.6" font-size="4.1" text-anchor="middle" fill="#2a2a2a" stroke="#2a2a2a" stroke-width="0.2" dominant-baseline="central">12</text>
<line x1="127.7" y1="535.3" x2="139.1" y2="529.63" stroke="#3a3a3a" stroke-width="0.72" stroke-linecap="round"/>
<line x1="139.1" y1="529.63" x2="150.5" y2="527.74" stroke="#3a3a3a" stroke-width="0.72" stroke-linecap="round"/>
<line x1="150.5" y1="527.74" x2="161.9" y2="508.84" stroke="#3a3a3a" stroke-width="0.72" stroke-linecap="round"/>
<line x1="161.9" y1="508.84" x2="173.3" y2="505.06" stroke="#3a3a3a" stroke-width="0.72" stroke-linecap="round"/>
<circle cx="127.7" cy="535.3" r="1.15" fill="#111"/>
<circle cx="139.1" cy="529.63" r="1.15" fill="#111"/>
<circle cx="150.5" cy="527.74" r="1.15" fill="#111"/>
<circle cx="161.9" cy="508.84" r="1.15" fill="#111"/>
<circle cx="173.3" cy="505.06" r="1.15" fill="#111"/>
<text x="149.7" y="495.5" font-size="6.2" text-anchor="middle" fill="#1a1a1a" stroke="#1a1a1a" stroke-width="0.16" dominant-baseline="central">Pat 13</text>
<text x="149.7" y="545.4" font-size="3.9" text-anchor="middle" fill="#4a4a4a" stroke="#4a4a4a" stroke-width="0.14" dominant-baseline="central">months</text>
<text x="109.5" y="516.4" font-size="4" text-anchor="middle" fill="#4a4a4a" stroke="#4a4a4a" stroke-width="0.14" transform="rotate(-90 109.5 516.4)" dominant-baseline="central">SF-36 score</text>
<rect x="215.2" y="533.41" width="56" height="1.89" fill="#d9d9d9"/>
<line x1="215.2" y1="497.5" x2="215.2" y2="535.3" stroke="#4a4a4a" stroke-width="0.7"/>
<line x1="215.2" y1="535.3" x2="271.2" y2="535.3" stroke="#4a4a4a" stroke-width="0.7"/>
<line x1="213.9" y1="535.3" x2="215.2" y2="535.3" stroke="#4a4a4a" stroke-width="0.6"/>
<text x="213.4" y="535.65" font-size="3.8" text-anchor="end" fill="#555" stroke="#555" stroke-width="0.19" dominant-baseline="central">0</text>
<line x1="213.9" y1="527.74" x2="215.2" y2="527.74" stroke="#4a4a4a" stroke-width="0.6"/>
<text x="213.4" y="528.09" font-size="3.8" text-anchor="end" fill="#555" stroke="#555" stroke-width="0.19" dominant-baseline="central">20</text>
<line x1="213.9" y1="520.18" x2="215.2" y2="520.18" stroke="#4a4a4a" stroke-width="0.6"/>
<text x="213.4" y="520.53" font-size="3.8" text-anchor="end" fill="#555" stroke="#555" stroke-width="0.19" dominant-baseline="central">40</text>
<line x1="213.9" y1="512.62" x2="215.2" y2="512.62" stroke="#4a4a4a" stroke-width="0.6"/>
<text x="213.4" y="512.97" font-size="3.8" text-anchor="end" fill="#555" stroke="#555" stroke-width="0.19" dominant-baseline="central">60</text>
<line x1="213.9" y1="505.06" x2="215.2" y2="505.06" stroke="#4a4a4a" stroke-width="0.6"/>
<text x="213.4" y="505.41" font-size="3.8" text-anchor="end" fill="#555" stroke="#555" stroke-width="0.19" dominant-baseline="central">80</text>
<line x1="213.9" y1="497.5" x2="215.2" y2="497.5" stroke="#4a4a4a" stroke-width="0.6"/>
<text x="213.4" y="497.85" font-size="3.8" text-anchor="end" fill="#555" stroke="#555" stroke-width="0.19" dominant-baseline="central">100</text>
<line x1="219.6" y1="535.3" x2="219.6" y2="536.5" stroke="#4a4a4a" stroke-width="0.6"/>
<text x="219.6" y="538.6" font-size="4.1" text-anchor="middle" fill="#2a2a2a" stroke="#2a2a2a" stroke-width="0.2" dominant-baseline="central">pre</text>
<line x1="228.95" y1="535.3" x2="228.95" y2="536.5" stroke="#4a4a4a" stroke-width="0.6"/>
<text x="228.95" y="538.6" font-size="4.1" text-anchor="middle" fill="#2a2a2a" stroke="#2a2a2a" stroke-width="0.2" dominant-baseline="central">3</text>
<line x1="238.3" y1="535.3" x2="238.3" y2="536.5" stroke="#4a4a4a" stroke-width="0.6"/>
<text x="238.3" y="538.6" font-size="4.1" text-anchor="middle" fill="#2a2a2a" stroke="#2a2a2a" stroke-width="0.2" dominant-baseline="central">6</text>
<line x1="247.65" y1="535.3" x2="247.65" y2="536.5" stroke="#4a4a4a" stroke-width="0.6"/>
<text x="247.65" y="538.6" font-size="4.1" text-anchor="middle" fill="#2a2a2a" stroke="#2a2a2a" stroke-width="0.2" dominant-baseline="central">9</text>
<line x1="257" y1="535.3" x2="257" y2="536.5" stroke="#4a4a4a" stroke-width="0.6"/>
<text x="257" y="538.6" font-size="4.1" text-anchor="middle" fill="#2a2a2a" stroke="#2a2a2a" stroke-width="0.2" dominant-baseline="central">12</text>
<line x1="266.35" y1="535.3" x2="266.35" y2="536.5" stroke="#4a4a4a" stroke-width="0.6"/>
<text x="266.35" y="538.6" font-size="4.1" text-anchor="middle" fill="#2a2a2a" stroke="#2a2a2a" stroke-width="0.2" dominant-baseline="central">15</text>
<line x1="219.6" y1="533.41" x2="228.95" y2="535.3" stroke="#3a3a3a" stroke-width="0.72" stroke-linecap="round"/>
<line x1="228.95" y1="535.3" x2="238.3" y2="523.96" stroke="#3a3a3a" stroke-width="0.72" stroke-linecap="round"/>
<line x1="238.3" y1="523.96" x2="247.65" y2="522.07" stroke="#3a3a3a" stroke-width="0.72" stroke-linecap="round"/>
<line x1="247.65" y1="522.07" x2="257" y2="520.18" stroke="#3a3a3a" stroke-width="0.72" stroke-linecap="round"/>
<line x1="257" y1="520.18" x2="266.35" y2="525.85" stroke="#3a3a3a" stroke-width="0.72" stroke-linecap="round"/>
<circle cx="219.6" cy="533.41" r="1.15" fill="#111"/>
<circle cx="228.95" cy="535.3" r="1.15" fill="#111"/>
<circle cx="238.3" cy="523.96" r="1.15" fill="#111"/>
<circle cx="247.65" cy="522.07" r="1.15" fill="#111"/>
<circle cx="257" cy="520.18" r="1.15" fill="#111"/>
<circle cx="266.35" cy="525.85" r="1.15" fill="#111"/>
<text x="242.2" y="495.5" font-size="6.2" text-anchor="middle" fill="#1a1a1a" stroke="#1a1a1a" stroke-width="0.16" dominant-baseline="central">Pat 16</text>
<text x="242.2" y="545.4" font-size="3.9" text-anchor="middle" fill="#4a4a4a" stroke="#4a4a4a" stroke-width="0.14" dominant-baseline="central">months</text>
<text x="202" y="516.4" font-size="4" text-anchor="middle" fill="#4a4a4a" stroke="#4a4a4a" stroke-width="0.14" transform="rotate(-90 202 516.4)" dominant-baseline="central">SF-36 score</text>
<rect x="308.3" y="518.29" width="56" height="17.01" fill="#d9d9d9"/>
<line x1="308.3" y1="497.5" x2="308.3" y2="535.3" stroke="#4a4a4a" stroke-width="0.7"/>
<line x1="308.3" y1="535.3" x2="364.3" y2="535.3" stroke="#4a4a4a" stroke-width="0.7"/>
<line x1="307" y1="535.3" x2="308.3" y2="535.3" stroke="#4a4a4a" stroke-width="0.6"/>
<text x="306.5" y="535.65" font-size="3.8" text-anchor="end" fill="#555" stroke="#555" stroke-width="0.19" dominant-baseline="central">0</text>
<line x1="307" y1="527.74" x2="308.3" y2="527.74" stroke="#4a4a4a" stroke-width="0.6"/>
<text x="306.5" y="528.09" font-size="3.8" text-anchor="end" fill="#555" stroke="#555" stroke-width="0.19" dominant-baseline="central">20</text>
<line x1="307" y1="520.18" x2="308.3" y2="520.18" stroke="#4a4a4a" stroke-width="0.6"/>
<text x="306.5" y="520.53" font-size="3.8" text-anchor="end" fill="#555" stroke="#555" stroke-width="0.19" dominant-baseline="central">40</text>
<line x1="307" y1="512.62" x2="308.3" y2="512.62" stroke="#4a4a4a" stroke-width="0.6"/>
<text x="306.5" y="512.97" font-size="3.8" text-anchor="end" fill="#555" stroke="#555" stroke-width="0.19" dominant-baseline="central">60</text>
<line x1="307" y1="505.06" x2="308.3" y2="505.06" stroke="#4a4a4a" stroke-width="0.6"/>
<text x="306.5" y="505.41" font-size="3.8" text-anchor="end" fill="#555" stroke="#555" stroke-width="0.19" dominant-baseline="central">80</text>
<line x1="307" y1="497.5" x2="308.3" y2="497.5" stroke="#4a4a4a" stroke-width="0.6"/>
<text x="306.5" y="497.85" font-size="3.8" text-anchor="end" fill="#555" stroke="#555" stroke-width="0.19" dominant-baseline="central">100</text>
<line x1="312.7" y1="535.3" x2="312.7" y2="536.5" stroke="#4a4a4a" stroke-width="0.6"/>
<text x="312.7" y="538.6" font-size="4.1" text-anchor="middle" fill="#2a2a2a" stroke="#2a2a2a" stroke-width="0.2" dominant-baseline="central">pre</text>
<line x1="322.05" y1="535.3" x2="322.05" y2="536.5" stroke="#4a4a4a" stroke-width="0.6"/>
<text x="322.05" y="538.6" font-size="4.1" text-anchor="middle" fill="#2a2a2a" stroke="#2a2a2a" stroke-width="0.2" dominant-baseline="central">3</text>
<line x1="331.4" y1="535.3" x2="331.4" y2="536.5" stroke="#4a4a4a" stroke-width="0.6"/>
<text x="331.4" y="538.6" font-size="4.1" text-anchor="middle" fill="#2a2a2a" stroke="#2a2a2a" stroke-width="0.2" dominant-baseline="central">6</text>
<line x1="340.75" y1="535.3" x2="340.75" y2="536.5" stroke="#4a4a4a" stroke-width="0.6"/>
<text x="340.75" y="538.6" font-size="4.1" text-anchor="middle" fill="#2a2a2a" stroke="#2a2a2a" stroke-width="0.2" dominant-baseline="central">9</text>
<line x1="350.1" y1="535.3" x2="350.1" y2="536.5" stroke="#4a4a4a" stroke-width="0.6"/>
<text x="350.1" y="538.6" font-size="4.1" text-anchor="middle" fill="#2a2a2a" stroke="#2a2a2a" stroke-width="0.2" dominant-baseline="central">12</text>
<line x1="359.45" y1="535.3" x2="359.45" y2="536.5" stroke="#4a4a4a" stroke-width="0.6"/>
<text x="359.45" y="538.6" font-size="4.1" text-anchor="middle" fill="#2a2a2a" stroke="#2a2a2a" stroke-width="0.2" dominant-baseline="central">15</text>
<line x1="312.7" y1="518.29" x2="322.05" y2="516.4" stroke="#3a3a3a" stroke-width="0.72" stroke-linecap="round"/>
<line x1="322.05" y1="516.4" x2="331.4" y2="516.4" stroke="#3a3a3a" stroke-width="0.72" stroke-linecap="round"/>
<line x1="331.4" y1="516.4" x2="340.75" y2="518.29" stroke="#3a3a3a" stroke-width="0.72" stroke-linecap="round"/>
<line x1="340.75" y1="518.29" x2="350.1" y2="518.29" stroke="#3a3a3a" stroke-width="0.72" stroke-linecap="round"/>
<line x1="350.1" y1="518.29" x2="359.45" y2="525.85" stroke="#3a3a3a" stroke-width="0.72" stroke-linecap="round"/>
<circle cx="312.7" cy="518.29" r="1.15" fill="#111"/>
<circle cx="322.05" cy="516.4" r="1.15" fill="#111"/>
<circle cx="331.4" cy="516.4" r="1.15" fill="#111"/>
<circle cx="340.75" cy="518.29" r="1.15" fill="#111"/>
<circle cx="350.1" cy="518.29" r="1.15" fill="#111"/>
<circle cx="359.45" cy="525.85" r="1.15" fill="#111"/>
<text x="335.3" y="495.5" font-size="6.2" text-anchor="middle" fill="#1a1a1a" stroke="#1a1a1a" stroke-width="0.16" dominant-baseline="central">Pat 17</text>
<text x="335.3" y="545.4" font-size="3.9" text-anchor="middle" fill="#4a4a4a" stroke="#4a4a4a" stroke-width="0.14" dominant-baseline="central">months</text>
<text x="295.1" y="516.4" font-size="4" text-anchor="middle" fill="#4a4a4a" stroke="#4a4a4a" stroke-width="0.14" transform="rotate(-90 295.1 516.4)" dominant-baseline="central">SF-36 score</text>
</svg>
</body></html>
